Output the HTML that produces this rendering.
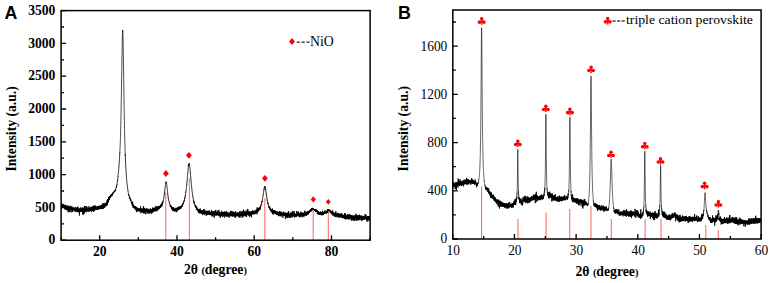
<!DOCTYPE html><html><head><meta charset="utf-8"><style>
html,body{margin:0;padding:0;background:#fff;overflow:hidden;}
svg{display:block;}
text{font-family:'Liberation Serif',serif;fill:#000;}
.ta{font-weight:bold;font-size:14.2px;}
.tb{font-size:14.7px;}
.tt{font-weight:bold;font-size:14.4px;}
.yt{font-weight:bold;font-size:15.2px;}
.pp{font-size:10.8px;}
.pl{font-family:'Liberation Sans',sans-serif;font-weight:bold;font-size:17.8px;}
.lg{font-size:14px;}
.lg2{font-size:13.2px;}
</style></head><body><svg width="772" height="283" viewBox="0 0 772 283"><rect x="0" y="0" width="772" height="283" fill="#fff"/>
<line x1="165.8" y1="192.4" x2="165.8" y2="240.2" stroke="#ff7070" stroke-width="1.1"/>
<line x1="189.4" y1="178" x2="189.4" y2="240.2" stroke="#ff7070" stroke-width="1.1"/>
<line x1="264.8" y1="198" x2="264.8" y2="240.2" stroke="#ff7070" stroke-width="1.1"/>
<line x1="313.2" y1="210.5" x2="313.2" y2="240.2" stroke="#ff7070" stroke-width="1.1"/>
<line x1="328.3" y1="212" x2="328.3" y2="240.2" stroke="#ff7070" stroke-width="1.1"/>
<line x1="481.6" y1="186.3" x2="481.6" y2="239" stroke="#ff7070" stroke-width="1.1"/>
<line x1="518" y1="219" x2="518" y2="239" stroke="#ff7070" stroke-width="1.1"/>
<line x1="546.1" y1="212.6" x2="546.1" y2="239" stroke="#ff7070" stroke-width="1.1"/>
<line x1="569.7" y1="209.1" x2="569.7" y2="239" stroke="#ff7070" stroke-width="1.1"/>
<line x1="591" y1="206" x2="591" y2="239" stroke="#ff7070" stroke-width="1.1"/>
<line x1="611.3" y1="219" x2="611.3" y2="239" stroke="#ff7070" stroke-width="1.1"/>
<line x1="645.1" y1="219" x2="645.1" y2="239" stroke="#ff7070" stroke-width="1.1"/>
<line x1="661" y1="219" x2="661" y2="239" stroke="#ff7070" stroke-width="1.1"/>
<line x1="705.8" y1="224.9" x2="705.8" y2="239" stroke="#ff7070" stroke-width="1.1"/>
<line x1="718.3" y1="230" x2="718.3" y2="239" stroke="#ff7070" stroke-width="1.1"/>
<polyline fill="none" stroke="#000" stroke-width="0.85" stroke-linejoin="round" points="61.6,206.04 61.67,207.9 61.74,207.74 61.81,205.37 61.88,205.69 61.95,205.41 62.02,206.95 62.09,206.11 62.16,207.24 62.23,203.69 62.3,208.43 62.37,206.16 62.44,207.26 62.51,206.16 62.58,205.85 62.65,207.03 62.72,207.56 62.79,206.17 62.86,206.26 62.93,207.44 63,205.32 63.07,204.46 63.14,207.12 63.21,205.67 63.28,203.98 63.35,205.53 63.42,206.03 63.49,205.05 63.56,204.66 63.63,206.8 63.7,208.01 63.77,206.47 63.84,205.79 63.91,207.37 63.98,207.85 64.05,206.48 64.12,207.66 64.19,208.37 64.26,206.67 64.33,205.86 64.4,207.48 64.47,207.37 64.54,208.57 64.61,205.3 64.68,206.18 64.75,205.96 64.82,204.75 64.89,207.34 64.96,207.91 65.03,206.19 65.1,209.14 65.17,208.38 65.24,208.14 65.31,207.85 65.38,209.95 65.45,205.5 65.52,208.2 65.59,208.21 65.66,204.97 65.73,207.9 65.8,207.1 65.87,208.54 65.94,206.88 66.01,207.48 66.08,208 66.15,206.34 66.22,208.39 66.29,207.44 66.36,208.28 66.43,206.9 66.5,209.14 66.57,208.49 66.64,207.44 66.71,208.57 66.78,209.45 66.85,210.2 66.92,205.59 66.99,208.99 67.06,208.43 67.13,207.68 67.2,206.44 67.27,209.58 67.34,206.13 67.41,208.66 67.48,209.69 67.55,205.72 67.62,207.52 67.69,206.15 67.76,208.31 67.83,210.07 67.9,210.79 67.97,205.58 68.04,207.25 68.11,209.03 68.18,212.42 68.25,208.67 68.32,207.08 68.39,208.54 68.46,208.12 68.53,207.88 68.6,207.17 68.67,208.73 68.74,208.63 68.81,208.1 68.88,207.94 68.95,206.49 69.02,207.61 69.09,209.95 69.16,208.05 69.23,206.35 69.3,210.18 69.37,209.09 69.44,211.27 69.51,208.48 69.58,207.77 69.65,206.43 69.72,210.26 69.79,211.98 69.86,207.34 69.93,207.6 70,209.32 70.07,207.38 70.14,208.16 70.21,208.07 70.28,208.83 70.35,210.08 70.42,208.62 70.49,209.87 70.56,208.05 70.63,209.09 70.7,205.72 70.77,206.68 70.84,209.78 70.91,207.89 70.98,209.52 71.05,209.48 71.12,212.38 71.19,209.88 71.26,210.18 71.33,208.65 71.4,207.86 71.47,207.83 71.54,208.18 71.61,207.31 71.68,208.13 71.75,208.77 71.82,209.6 71.89,207.99 71.96,206.3 72.03,208.86 72.1,209.28 72.17,210.47 72.24,209.79 72.31,208.13 72.38,208.04 72.45,211.8 72.52,210.1 72.59,211.59 72.66,212.01 72.73,207.98 72.8,209.65 72.87,209.76 72.94,209.91 73.01,209.9 73.08,209.45 73.15,209.43 73.22,207.14 73.29,208.99 73.36,208.2 73.43,209.41 73.5,208.61 73.57,210.12 73.64,210.4 73.71,209.72 73.78,210.17 73.85,209.45 73.92,208.72 73.99,209.12 74.06,208.68 74.13,209.9 74.2,209.4 74.27,210.19 74.34,207.58 74.41,210.63 74.48,208.38 74.55,208.43 74.62,209.18 74.69,208.68 74.76,209.86 74.83,208.69 74.9,208.02 74.97,208.34 75.04,211.3 75.11,209.58 75.18,207.93 75.25,209.55 75.32,207.42 75.39,212 75.46,207.48 75.53,210.23 75.6,210.33 75.67,207.61 75.74,210.01 75.81,210.98 75.88,210.26 75.95,209.99 76.02,210.94 76.09,209.87 76.16,210.12 76.23,209.5 76.3,210.55 76.37,208.41 76.44,210.79 76.51,209.02 76.58,208.23 76.65,210.23 76.72,212.06 76.79,211.07 76.86,209.06 76.93,210.72 77,209.16 77.07,209.62 77.14,209.92 77.21,206.64 77.28,210.08 77.35,208.42 77.42,208.88 77.49,207.83 77.56,207.78 77.63,208.57 77.7,210.99 77.77,212.15 77.84,209.85 77.91,211.38 77.98,209.54 78.05,207.29 78.12,210.12 78.19,210.53 78.26,209.34 78.33,210.34 78.4,211.5 78.47,208.76 78.54,207.93 78.61,209.65 78.68,209.67 78.75,209.48 78.82,211.31 78.89,212.33 78.96,209.41 79.03,210.93 79.1,211.27 79.17,210.96 79.24,211.42 79.31,209.46 79.38,211 79.45,215.51 79.52,211.09 79.59,209.15 79.66,210.83 79.73,211.72 79.8,210.5 79.87,209.23 79.94,212.1 80.01,208.3 80.08,210.68 80.15,209.98 80.22,208.37 80.29,211.66 80.36,210.47 80.43,208.4 80.5,210.81 80.57,209.4 80.64,207.4 80.71,209.05 80.78,210.34 80.85,210.85 80.92,210.21 80.99,210.04 81.06,210.62 81.13,209.69 81.2,211.57 81.27,210.17 81.34,210.37 81.41,210.7 81.48,208.53 81.55,209 81.62,212.04 81.69,210.41 81.76,209.19 81.83,210.42 81.9,209.3 81.97,210.33 82.04,209.04 82.11,210.32 82.18,207.8 82.25,211.74 82.32,209.24 82.39,207.79 82.46,209.63 82.53,209.42 82.6,210.13 82.67,208.37 82.74,210.46 82.81,214.83 82.88,208.18 82.95,210.37 83.02,209.48 83.09,210.16 83.16,207.44 83.23,208.33 83.3,210.51 83.37,209.84 83.44,214.32 83.51,208.93 83.58,210.11 83.65,213.82 83.72,208.83 83.79,208.64 83.86,209.82 83.93,209.8 84,211 84.07,210.03 84.14,208.82 84.21,210.13 84.28,213.41 84.35,211.56 84.42,206.07 84.49,209.64 84.56,208.64 84.63,210.66 84.7,209.58 84.77,212.43 84.84,211.07 84.91,211.01 84.98,210.05 85.05,209.74 85.12,210.25 85.19,211.54 85.26,210.51 85.33,209.3 85.4,211.5 85.47,210.03 85.54,209.66 85.61,208.69 85.68,208.99 85.75,208.89 85.82,205.97 85.89,211.11 85.96,210.49 86.03,209.43 86.1,211.12 86.17,210.3 86.24,210.2 86.31,206.35 86.38,209.37 86.45,210.39 86.52,211.84 86.59,212.14 86.66,211.58 86.73,208.08 86.8,206.68 86.87,210.4 86.94,209.66 87.01,210.91 87.08,209.43 87.15,209.89 87.22,207.57 87.29,210.18 87.36,208.97 87.43,210.03 87.5,210.17 87.57,209.38 87.64,209.96 87.71,209.5 87.78,210.53 87.85,210.18 87.92,208.76 87.99,208.69 88.06,211.82 88.13,209.33 88.2,210.79 88.27,209.97 88.34,208.68 88.41,208.42 88.48,209.58 88.55,209.75 88.62,210.22 88.69,207.68 88.76,208.58 88.83,209.24 88.9,211.5 88.97,206.18 89.04,209.92 89.11,208.6 89.18,209.89 89.25,208.65 89.32,209.78 89.39,211.38 89.46,209.75 89.53,209.85 89.6,209.75 89.67,208.24 89.74,209.96 89.81,208.95 89.88,208.13 89.95,209.16 90.02,208.89 90.09,210.2 90.16,209.12 90.23,208.46 90.3,211.1 90.37,210.47 90.44,210.83 90.51,209.94 90.58,208.97 90.65,208.55 90.72,208.72 90.79,210.35 90.86,209.23 90.93,207.09 91,209 91.07,207.16 91.14,209.26 91.21,207.42 91.28,207.33 91.35,209.16 91.42,208.89 91.49,206.77 91.56,209.97 91.63,211.84 91.7,206.98 91.77,211.36 91.84,208.01 91.91,208.26 91.98,208.66 92.05,206.97 92.12,210.61 92.19,209.52 92.26,207.86 92.33,208.48 92.4,206.82 92.47,208.36 92.54,210.05 92.61,206.52 92.68,208.21 92.75,208.97 92.82,210.16 92.89,210.54 92.96,208.14 93.03,207.75 93.1,209.32 93.17,208.23 93.24,208.28 93.31,210.11 93.38,210.91 93.45,209.01 93.52,208.39 93.59,209.39 93.66,206.13 93.73,208.59 93.8,207.2 93.87,211.75 93.94,209.53 94.01,208.75 94.08,208.04 94.15,205.22 94.22,209.47 94.29,210.67 94.36,207.55 94.43,209.4 94.5,209.44 94.57,206.43 94.64,209.69 94.71,210.23 94.78,208.74 94.85,208.34 94.92,209.45 94.99,206.38 95.06,208.51 95.13,209.76 95.2,206.73 95.27,209.66 95.34,207.8 95.41,205.6 95.48,208.18 95.55,207.04 95.62,208.72 95.69,206.75 95.76,209.65 95.83,207.3 95.9,208.72 95.97,207.47 96.04,207.81 96.11,209.78 96.18,208.49 96.25,207.69 96.32,206.56 96.39,209.7 96.46,209.13 96.53,207.73 96.6,208.47 96.67,206.8 96.74,206.8 96.81,207.04 96.88,208.57 96.95,208.48 97.02,207.11 97.09,209.03 97.16,209.08 97.23,208.28 97.3,209.39 97.37,207.65 97.44,207.87 97.51,208.62 97.58,207.95 97.65,209.01 97.72,206.35 97.79,209.81 97.86,206.93 97.93,207.72 98,206.14 98.07,208.69 98.14,209.55 98.21,209.27 98.28,208.95 98.35,205.85 98.42,206.84 98.49,207.24 98.56,206.61 98.63,209.25 98.7,208.03 98.77,207.75 98.84,208.39 98.91,206.53 98.98,206.57 99.05,206.59 99.12,208.35 99.19,208.13 99.26,208.42 99.33,209.04 99.4,205.9 99.47,206.91 99.54,207.8 99.61,205.87 99.68,206.9 99.75,208.86 99.82,208.95 99.89,208.9 99.96,207.57 100.03,207.22 100.1,208.85 100.17,206.98 100.24,208.3 100.31,209.1 100.38,206.46 100.45,206.6 100.52,207.34 100.59,208.09 100.66,207.92 100.73,207.48 100.8,207.96 100.87,205.21 100.94,206.12 101.01,207.39 101.08,205.98 101.15,205.44 101.22,205.58 101.29,205.92 101.36,206.82 101.43,205.73 101.5,207.29 101.57,209.1 101.64,206.75 101.71,208.51 101.78,207.24 101.85,205.44 101.92,206.49 101.99,205.55 102.06,207.71 102.13,205.28 102.2,208.34 102.27,207.38 102.34,204.1 102.41,207.57 102.48,208.49 102.55,205.54 102.62,207.71 102.69,204.22 102.76,206.73 102.83,204.33 102.9,206.95 102.97,204.1 103.04,203.02 103.11,206.73 103.18,209.03 103.25,205.43 103.32,207.15 103.39,206.22 103.46,205.65 103.53,206.76 103.6,207.98 103.67,204.4 103.74,206.57 103.81,206.25 103.88,204.04 103.95,207.71 104.02,208.07 104.09,204.48 104.16,207.71 104.23,205.62 104.3,205.3 104.37,207.27 104.44,205.68 104.51,205.74 104.58,207.14 104.65,206.81 104.72,206.28 104.79,203.47 104.86,203.21 104.93,206.4 105,203.89 105.07,205.13 105.14,203.62 105.21,204.63 105.28,203.27 105.35,206.69 105.42,203.49 105.49,204.5 105.56,204.37 105.63,205.96 105.7,202.8 105.77,204.38 105.84,204.11 105.91,204.91 105.98,204.77 106.05,203.61 106.12,204.35 106.19,203.56 106.26,204.45 106.33,203.7 106.4,202.97 106.47,203.6 106.54,203.95 106.61,206.03 106.68,202.77 106.75,203.57 106.82,204.78 106.89,200.65 106.96,200.92 107.03,201.43 107.1,202.52 107.17,205.26 107.24,202.84 107.31,203.62 107.38,201.91 107.45,199.31 107.52,199.36 107.59,202.88 107.66,201.84 107.73,200.1 107.8,202.58 107.87,199.6 107.94,202.32 108.01,202.52 108.08,200.04 108.15,199.54 108.22,201.43 108.29,199.26 108.36,201.12 108.43,198.85 108.5,200.72 108.57,199.82 108.64,198.69 108.71,198.49 108.78,199.42 108.85,197.17 108.92,198.56 108.99,198.27 109.06,199.11 109.13,197.12 109.2,199.71 109.27,197.66 109.34,196.74 109.41,200.11 109.48,198.93 109.55,197.14 109.62,196.38 109.69,197.03 109.76,196.3 109.83,196.5 109.9,197.93 109.97,196.86 110.04,196.56 110.11,196.63 110.18,196.22 110.25,196.83 110.32,196.77 110.39,195.75 110.46,196.03 110.53,197.63 110.6,196.1 110.67,195.6 110.74,197.08 110.81,195.61 110.88,194.8 110.95,195.91 111.02,194.83 111.09,195.03 111.16,195.49 111.23,195.14 111.3,194.7 111.37,194.77 111.44,194.35 111.51,195.64 111.58,194.51 111.65,194.53 111.72,195.89 111.79,194.42 111.86,196.21 111.93,195.25 112,194.42 112.07,193.72 112.14,194.56 112.21,194.91 112.28,194.63 112.35,194.12 112.42,194.54 112.49,194.52 112.56,193.34 112.63,194.33 112.7,193.69 112.77,193.28 112.84,193.28 112.91,194.09 112.98,193.62 113.05,192.42 113.12,193.06 113.19,192.88 113.26,192.78 113.33,192.56 113.4,192.13 113.47,192.88 113.54,192.16 113.61,192.28 113.68,192.12 113.75,192 113.82,192.44 113.89,192.24 113.96,191.8 114.03,191.31 114.1,191.74 114.17,192.18 114.24,191.81 114.31,191.78 114.38,191.5 114.45,191.45 114.52,191.53 114.59,190.73 114.66,191.85 114.73,190.91 114.8,190.89 114.87,191.46 114.94,190.96 115.01,190.78 115.08,190.44 115.15,189.98 115.22,190.46 115.29,190.68 115.36,189.8 115.43,190.44 115.5,189.41 115.57,189.39 115.64,189.65 115.71,189.29 115.78,189.35 115.85,188.65 115.92,188.34 115.99,187.84 116.06,187.84 116.13,187.66 116.2,187.29 116.27,187.64 116.34,187.04 116.41,186.3 116.48,187.57 116.55,186.11 116.62,185.65 116.69,186.2 116.76,185.84 116.83,184.68 116.9,184.2 116.97,183.98 117.04,184.33 117.11,183.42 117.18,182.82 117.25,182.65 117.32,182.62 117.39,181.24 117.46,181.1 117.53,180.24 117.6,180.96 117.67,180.29 117.74,179.42 117.81,178.46 117.88,178.13 117.95,176.55 118.02,176.74 118.09,175.52 118.16,174.84 118.23,174.36 118.3,173.77 118.37,173.36 118.44,172.65 118.51,171.72 118.58,170.5 118.65,170.26 118.72,169.15 118.79,168.75 118.86,167.15 118.93,165.61 119,165.5 119.07,165.48 119.14,163.93 119.21,162.72 119.28,162.08 119.35,160.9 119.42,159.81 119.49,158.36 119.56,157.41 119.63,156.26 119.7,154.72 119.77,153.26 119.84,152.34"/>
<polyline fill="none" stroke="#000" stroke-width="0.7" stroke-linejoin="round" points="119.77,153.26 119.84,152.34 119.91,151.21 119.98,149.61 120.05,147.99 120.12,146.35 120.19,145.35 120.26,142.71 120.33,141.05 120.4,139.34 120.47,136.52 120.54,134.32 120.61,132.2 120.68,129.89 120.75,126.73 120.82,123.93 120.89,120.86 120.96,117.28 121.03,114.8 121.1,110.87 121.17,106.14 121.24,103.52 121.31,99.03 121.38,95.2 121.45,91.34 121.52,86.66 121.59,82.89 121.66,76.95 121.73,73.46 121.8,68.94 121.87,64.65 121.94,59.91 122.01,55.24 122.08,50.93 122.15,46.86 122.22,43.55 122.29,39.55 122.36,37.02 122.43,34.34 122.5,32.53 122.57,31 122.64,31.09 122.71,30 122.78,30.83 122.85,31.97 122.92,33.82 122.99,36.07 123.06,38.88 123.13,42.36 123.2,45.19 123.27,49.76 123.34,53.64 123.41,58.69 123.48,62.89 123.55,67.76 123.62,72.92 123.69,78.29 123.76,82.83 123.83,87.49 123.9,92.55 123.97,96.29 124.04,100.32 124.11,105.2 124.18,109.39 124.25,113.9 124.32,118.05 124.39,120.5 124.46,125.34 124.53,128.37 124.6,131.32 124.67,134.2 124.74,137.83 124.81,139.81 124.88,142.21 124.95,144.93 125.02,146.79 125.09,149.7 125.16,151.65 125.23,153.86 125.3,155.82"/>
<polyline fill="none" stroke="#000" stroke-width="0.85" stroke-linejoin="round" points="125.23,153.86 125.3,155.82 125.37,157.18 125.44,159.78 125.51,160.3 125.58,162.92 125.65,163.59 125.72,165.73 125.79,166.71 125.86,168.34 125.93,169.36 126,170.04 126.07,171.57 126.14,173.09 126.21,174.34 126.28,174.62 126.35,175.36 126.42,176.73 126.49,177.86 126.56,178.56 126.63,179.32 126.7,180.69 126.77,181.49 126.84,182.14 126.91,182.25 126.98,183.28 127.05,183.83 127.12,184.03 127.19,185.44 127.26,185.74 127.33,186.1 127.4,187.3 127.47,187.6 127.54,188.13 127.61,188.74 127.68,189.04 127.75,188.8 127.82,189.55 127.89,190.46 127.96,190.26 128.03,190.94 128.1,191.46 128.17,192.2 128.24,192.51 128.31,192.73 128.38,192.69 128.45,193.41 128.52,193.61 128.59,193.68 128.66,195 128.73,194.52 128.8,194.37 128.87,195.37 128.94,195.11 129.01,195.68 129.08,195.2 129.15,195.98 129.22,195.91 129.29,196.15 129.36,196.06 129.43,198.46 129.5,197.13 129.57,197.49 129.64,198.02 129.71,197.8 129.78,198.23 129.85,197.28 129.92,198.53 129.99,198.49 130.06,199.05 130.13,199.11 130.2,198.6 130.27,198.54 130.34,199.09 130.41,200.49 130.48,200.14 130.55,200.3 130.62,199.17 130.69,198.93 130.76,200.22 130.83,200.54 130.9,200.53 130.97,201.25 131.04,201.08 131.11,200.6 131.18,200.93 131.25,201.74 131.32,201.86 131.39,201.92 131.46,203.68 131.53,202.11 131.6,202.54 131.67,201.9 131.74,202.52 131.81,203.32 131.88,203.52 131.95,203.14 132.02,203.72 132.09,203.62 132.16,202.27 132.23,201.32 132.3,205.88 132.37,204.86 132.44,204.3 132.51,203.07 132.58,203.58 132.65,205.9 132.72,202.57 132.79,204.76 132.86,205.9 132.93,205.41 133,206.05 133.07,205.4 133.14,207.73 133.21,204.83 133.28,204.64 133.35,206.21 133.42,207.36 133.49,206.13 133.56,207.25 133.63,205.9 133.7,205.4 133.77,207.9 133.84,208.17 133.91,208.24 133.98,206.48 134.05,205.89 134.12,205.97 134.19,206.96 134.26,207.83 134.33,207.84 134.4,206.03 134.47,207.7 134.54,207.6 134.61,207.75 134.68,207.7 134.75,207.59 134.82,208.45 134.89,208.04 134.96,208.2 135.03,207.32 135.1,208.47 135.17,208 135.24,206 135.31,208.71 135.38,207.99 135.45,209.26 135.52,208.18 135.59,208.29 135.66,208.66 135.73,208.47 135.8,208.05 135.87,206.67 135.94,210.55 136.01,206.96 136.08,208.31 136.15,209.41 136.22,209.16 136.29,209.39 136.36,209.65 136.43,210.22 136.5,209.21 136.57,212.07 136.64,207.85 136.71,209.23 136.78,208.62 136.85,208.45 136.92,209.39 136.99,210.71 137.06,207.58 137.13,208.38 137.2,210 137.27,209.83 137.34,211.43 137.41,210.42 137.48,209.56 137.55,208.96 137.62,209.6 137.69,209.19 137.76,207.88 137.83,209.44 137.9,209.26 137.97,209.22 138.04,209.02 138.11,211.45 138.18,210.34 138.25,210.64 138.32,208.91 138.39,208.46 138.46,209.32 138.53,209.95 138.6,209.29 138.67,209.49 138.74,210.84 138.81,210.1 138.88,208.64 138.95,209.3 139.02,209.06 139.09,210.05 139.16,208.5 139.23,209.67 139.3,210.7 139.37,209.95 139.44,208.87 139.51,208.52 139.58,210.12 139.65,210.56 139.72,211 139.79,209.87 139.86,208.51 139.93,211.75 140,210.45 140.07,210.6 140.14,210.5 140.21,208.94 140.28,209.8 140.35,210.51 140.42,211.44 140.49,210.31 140.56,206.56 140.63,209.71 140.7,210.72 140.77,211.86 140.84,211.19 140.91,213.33 140.98,212.08 141.05,212.01 141.12,211.55 141.19,208.79 141.26,211.48 141.33,211.2 141.4,209.87 141.47,211.23 141.54,211.04 141.61,210 141.68,210.43 141.75,210.28 141.82,210.9 141.89,210.13 141.96,211.31 142.03,208.36 142.1,210.35 142.17,208.68 142.24,210.15 142.31,211.37 142.38,210.79 142.45,210.65 142.52,210.88 142.59,212.72 142.66,209.49 142.73,211.93 142.8,209.03 142.87,210.31 142.94,211.1 143.01,209.88 143.08,211.18 143.15,211.83 143.22,209.5 143.29,210.88 143.36,210.53 143.43,206.26 143.5,210.78 143.57,210.05 143.64,212.68 143.71,209.98 143.78,213.15 143.85,210.42 143.92,213.46 143.99,211.76 144.06,211.66 144.13,212.11 144.2,212.23 144.27,212.86 144.34,213.27 144.41,210.72 144.48,209.62 144.55,207.88 144.62,210.7 144.69,212.12 144.76,211.65 144.83,211.33 144.9,210.76 144.97,210.41 145.04,210.85 145.11,211.69 145.18,209.03 145.25,212.11 145.32,209.41 145.39,211.02 145.46,210.44 145.53,210.77 145.6,209.93 145.67,209.8 145.74,210.94 145.81,209.89 145.88,214.28 145.95,210.72 146.02,210.42 146.09,210.55 146.16,209.91 146.23,208.19 146.3,210.92 146.37,212 146.44,209.38 146.51,211.25 146.58,209.74 146.65,211.2 146.72,211.69 146.79,211.85 146.86,211.79 146.93,210.37 147,212.34 147.07,210.69 147.14,211.69 147.21,212.13 147.28,210.87 147.35,209.65 147.42,212.02 147.49,209.86 147.56,210.14 147.63,209.88 147.7,212.3 147.77,211.05 147.84,208.45 147.91,213.07 147.98,213.83 148.05,213.49 148.12,210.54 148.19,211.34 148.26,211.88 148.33,212.36 148.4,211.29 148.47,209.88 148.54,212.18 148.61,212 148.68,209.58 148.75,210.78 148.82,211.57 148.89,211.23 148.96,211.88 149.03,212.22 149.1,211.9 149.17,211.08 149.24,209.54 149.31,211.98 149.38,212.96 149.45,213.67 149.52,211.11 149.59,211.16 149.66,213 149.73,212.99 149.8,211.62 149.87,212.08 149.94,209.28 150.01,211.91 150.08,210.15 150.15,210.99 150.22,211.02 150.29,210.58 150.36,208.53 150.43,210.13 150.5,211.56 150.57,211.07 150.64,210.65 150.71,211.66 150.78,212.81 150.85,212.17 150.92,210.1 150.99,211.12 151.06,210.67 151.13,208.88 151.2,209.21 151.27,210.94 151.34,209.97 151.41,213.71 151.48,210.76 151.55,210.74 151.62,210.51 151.69,213.31 151.76,209.81 151.83,210.77 151.9,210 151.97,210.79 152.04,210.88 152.11,212.27 152.18,209.15 152.25,210.86 152.32,212.87 152.39,210.23 152.46,210.62 152.53,209.73 152.6,207.59 152.67,210.67 152.74,212.22 152.81,210.19 152.88,208.47 152.95,211.05 153.02,210.81 153.09,211.92 153.16,211.79 153.23,210.32 153.3,211.12 153.37,208.41 153.44,211.96 153.51,210.8 153.58,211.88 153.65,211.83 153.72,210.16 153.79,210.31 153.86,209.41 153.93,207.93 154,210.27 154.07,210.59 154.14,207.72 154.21,211.22 154.28,210.46 154.35,210.86 154.42,209.36 154.49,208.13 154.56,211.18 154.63,210.95 154.7,210.06 154.77,209.66 154.84,209.81 154.91,209.95 154.98,209.47 155.05,207.64 155.12,210.97 155.19,208.2 155.26,209.56 155.33,209.55 155.4,210.19 155.47,207.91 155.54,211.23 155.61,210.53 155.68,210.61 155.75,211.15 155.82,208.65 155.89,205.82 155.96,209.88 156.03,210.98 156.1,210.75 156.17,208.69 156.24,209.15 156.31,209.54 156.38,207.02 156.45,208.3 156.52,208.28 156.59,210.81 156.66,208.14 156.73,210.67 156.8,208.8 156.87,206.78 156.94,211.24 157.01,207.49 157.08,209.27 157.15,210.47 157.22,207.84 157.29,206.99 157.36,209.54 157.43,208.38 157.5,206.86 157.57,206.99 157.64,207.73 157.71,209.22 157.78,207.77 157.85,208.8 157.92,209.89 157.99,209.42 158.06,209.58 158.13,209.32 158.2,206.14 158.27,209.25 158.34,208.23 158.41,207.7 158.48,206.62 158.55,206.04 158.62,206.53 158.69,207.69 158.76,206.41 158.83,206.76 158.9,206.95 158.97,208.99 159.04,207.22 159.11,207.34 159.18,208.86 159.25,207.08 159.32,208.01 159.39,206.24 159.46,207.64 159.53,207.38 159.6,207.39 159.67,206.69 159.74,206.07 159.81,206.77 159.88,206.55 159.95,207.99 160.02,207.8 160.09,205.68 160.16,207.41 160.23,206.28 160.3,207.12 160.37,206.16 160.44,205.17 160.51,207.44 160.58,206.84 160.65,205.23 160.72,204.57 160.79,205.72 160.86,205.08 160.93,205.73 161,206.5 161.07,207.13 161.14,205.48 161.21,206.84 161.28,206.55 161.35,205.15 161.42,204.07 161.49,205.95 161.56,205.64 161.63,206.83 161.7,206 161.77,205.38 161.84,205.88 161.91,203.83 161.98,204.55 162.05,204.09 162.12,205.23 162.19,204.31 162.26,201.97 162.33,204.42 162.4,202.95 162.47,203.68 162.54,202.83 162.61,203 162.68,202.96 162.75,202.54 162.82,201.84 162.89,202.52 162.96,201.88 163.03,201.48 163.1,201.47 163.17,200.75 163.24,201.31 163.31,200.42 163.38,200.15 163.45,199.82 163.52,199.03 163.59,198.58 163.66,198.69 163.73,198.35 163.8,198.29 163.87,197.56 163.94,196.58 164.01,196.69 164.08,196.32 164.15,195.89 164.22,195.15 164.29,194.08 164.36,194.37 164.43,193.15 164.5,193.04 164.57,191.7 164.64,191.92 164.71,190.76 164.78,190.8 164.85,190.41 164.92,189.57 164.99,188.11 165.06,187.56 165.13,186.96 165.2,186.88 165.27,186.17 165.34,185.53 165.41,185.03 165.48,184.61 165.55,184.15 165.62,184.07 165.69,183.07 165.76,182.83 165.83,181.83 165.9,181.8 165.97,181.86 166.04,181.61 166.11,182.08 166.18,182.42 166.25,182.03 166.32,182.2 166.39,182.44 166.46,182.98 166.53,182.93 166.6,183.88 166.67,184.31 166.74,184.83 166.81,185.53 166.88,185.86 166.95,186.49 167.02,187.68 167.09,187.68 167.16,188.62 167.23,189.01 167.3,189.48 167.37,190.13 167.44,190.65 167.51,191.58 167.58,191.99 167.65,192.67 167.72,193.84 167.79,193.96 167.86,194.97 167.93,195.22 168,195.97 168.07,195.97 168.14,196.74 168.21,198.1 168.28,197.93 168.35,198.45 168.42,198.61 168.49,199.25 168.56,198.94 168.63,199.44 168.7,200.26 168.77,200.75 168.84,200.67 168.91,201.07 168.98,201.33 169.05,201.69 169.12,201.63 169.19,201.83 169.26,202.57 169.33,202.25 169.4,202.74 169.47,203.08 169.54,203.13 169.61,203.91 169.68,203.8 169.75,204.17 169.82,203.89 169.89,204.2 169.96,205.07 170.03,205.17 170.1,204.85 170.17,205.51 170.24,205.56 170.31,205.7 170.38,206.79 170.45,205.61 170.52,206.3 170.59,206.44 170.66,206.11 170.73,205.55 170.8,207.02 170.87,206.82 170.94,206.77 171.01,206.86 171.08,206.96 171.15,206.33 171.22,207.37 171.29,205.77 171.36,207.3 171.43,206.17 171.5,207.2 171.57,208.75 171.64,207.43 171.71,207.32 171.78,208.25 171.85,207.64 171.92,207.59 171.99,207.66 172.06,209.43 172.13,208.74 172.2,208.64 172.27,207.18 172.34,208.89 172.41,207.19 172.48,208.88 172.55,207.45 172.62,210.37 172.69,207.01 172.76,210.9 172.83,209.46 172.9,207.07 172.97,208.58 173.04,210.25 173.11,210.01 173.18,207.37 173.25,208.52 173.32,207.93 173.39,208.12 173.46,208.54 173.53,211.02 173.6,209.39 173.67,209.09 173.74,209.02 173.81,210.06 173.88,210.12 173.95,208.57 174.02,210.98 174.09,208.48 174.16,209.32 174.23,210.07 174.3,211.36 174.37,209.34 174.44,210 174.51,211.04 174.58,210.38 174.65,210.91 174.72,210.84 174.79,210.07 174.86,210.46 174.93,210.75 175,209.81 175.07,211.45 175.14,207.84 175.21,208.91 175.28,211.28 175.35,210.25 175.42,209.16 175.49,210.18 175.56,210.88 175.63,209.2 175.7,210.52 175.77,209.6 175.84,209.59 175.91,209.61 175.98,210.77 176.05,208.5 176.12,209.23 176.19,210.24 176.26,208.32 176.33,207.93 176.4,210.05 176.47,209.45 176.54,209.27 176.61,209.52 176.68,208.38 176.75,212.21 176.82,208.3 176.89,208.81 176.96,207.8 177.03,208.76 177.1,210.64 177.17,209.12 177.24,209.65 177.31,208.56 177.38,210.77 177.45,209.13 177.52,207.72 177.59,209.65 177.66,208.1 177.73,209.43 177.8,208.95 177.87,209.04 177.94,208.89 178.01,207.87 178.08,207.28 178.15,209.61 178.22,208.53 178.29,208.9 178.36,208.17 178.43,206.68 178.5,207.36 178.57,209.81 178.64,207.76 178.71,208.1 178.78,207.08 178.85,207.91 178.92,208.02 178.99,208.12 179.06,208.22 179.13,207.69 179.2,207.7 179.27,208.17 179.34,208.42 179.41,207.98 179.48,209.58 179.55,208.2 179.62,208.12 179.69,207.37 179.76,208.76 179.83,206.98 179.9,206.44 179.97,206.93 180.04,208.21 180.11,206.71 180.18,208.65 180.25,207.53 180.32,206.27 180.39,207.25 180.46,208.78 180.53,206.65 180.6,206.25 180.67,207.59 180.74,208.13 180.81,207.84 180.88,206.77 180.95,207.08 181.02,207.11 181.09,207.64 181.16,208.25 181.23,206.58 181.3,207.48 181.37,206.27 181.44,206.82 181.51,205.73 181.58,205.76 181.65,206.43 181.72,205.52 181.79,206.54 181.86,205.56 181.93,205.85 182,205.65 182.07,205.41 182.14,205.57 182.21,205.97 182.28,206.92 182.35,204.56 182.42,205.2 182.49,204.85 182.56,204.38 182.63,204.82 182.7,204.17 182.77,204.39 182.84,204.79 182.91,203.36 182.98,204.1 183.05,204.01 183.12,203.37 183.19,203.73 183.26,203.5 183.33,203.09 183.4,203.46 183.47,202.4 183.54,202.9 183.61,202.41 183.68,201.93 183.75,202.03 183.82,201.77 183.89,201.97 183.96,200.94 184.03,201.17 184.1,200.84 184.17,201.31 184.24,200.13 184.31,200.63 184.38,199.39 184.45,199.85 184.52,199.4 184.59,199.3 184.66,198.62 184.73,197.88 184.8,197.71 184.87,198.38 184.94,197.66 185.01,196.94 185.08,197.2 185.15,196.26 185.22,195.88 185.29,195.32 185.36,195.76 185.43,195.61 185.5,194.16 185.57,194.16 185.64,193.94 185.71,193.87 185.78,191.81 185.85,192.2 185.92,191.86 185.99,190.59 186.06,190.71 186.13,190.08 186.2,189.69 186.27,188.64 186.34,188.39 186.41,187.41 186.48,187.19 186.55,186.38 186.62,185.53 186.69,184.48 186.76,184.85 186.83,184.31 186.9,183.14 186.97,181.86 187.04,181.22 187.11,181.16 187.18,180.06 187.25,178.72 187.32,178.24 187.39,177.48 187.46,176.56 187.53,175.5 187.6,175.46 187.67,174.43 187.74,173.36 187.81,172.1 187.88,171.67 187.95,171.12 188.02,170.69 188.09,169.54 188.16,169.36 188.23,168.37 188.3,167.43 188.37,165.12 188.44,166.14 188.51,165.53 188.58,165.54 188.65,165.3 188.72,165.32 188.79,164.54 188.86,163.9 188.93,164.96 189,164.13 189.07,163.88 189.14,163.9 189.21,163.1 189.28,164.43 189.35,164.55 189.42,165.23 189.49,165.39 189.56,165.69 189.63,166.26 189.7,166.2 189.77,166.68 189.84,167.39 189.91,167.59 189.98,168.63 190.05,169.25 190.12,170.31 190.19,170.81 190.26,170.91 190.33,172.37 190.4,173.65 190.47,173.32 190.54,174.51 190.61,175.6 190.68,175.95 190.75,177.05 190.82,178.08 190.89,178.42 190.96,179.79 191.03,180.64 191.1,180.84 191.17,182.08 191.24,183.22 191.31,183.54 191.38,184.5 191.45,185.31 191.52,185.72 191.59,186.85 191.66,187.32 191.73,187.51 191.8,188.7 191.87,189.46 191.94,190.06 192.01,190.16 192.08,191.14 192.15,192.03 192.22,192.19 192.29,193.07 192.36,193.64 192.43,193.69 192.5,194.43 192.57,194.59 192.64,195.9 192.71,195.59 192.78,195.87 192.85,196.49 192.92,196.9 192.99,197.46 193.06,197.89 193.13,197.7 193.2,198.26 193.27,198.97 193.34,199.37 193.41,199.57 193.48,200.8 193.55,200.59 193.62,200.48 193.69,201.32 193.76,202.04 193.83,201.53 193.9,201.07 193.97,201.98 194.04,202.23 194.11,203.22 194.18,202.08 194.25,203.5 194.32,203.14 194.39,203.75 194.46,203.55 194.53,203.93 194.6,204.47 194.67,204.31 194.74,204.85 194.81,204.65 194.88,204.72 194.95,204.97 195.02,205.05 195.09,205.36 195.16,206.1 195.23,205.27 195.3,205.2 195.37,206.05 195.44,206.99 195.51,206.86 195.58,207.16 195.65,207.29 195.72,206.41 195.79,206.99 195.86,205.59 195.93,206.85 196,207.67 196.07,206.51 196.14,206.31 196.21,206.87 196.28,207.93 196.35,208.66 196.42,209.72 196.49,209.08 196.56,207.19 196.63,206.72 196.7,208.54 196.77,209.29 196.84,207.45 196.91,208.34 196.98,208.48 197.05,208.93 197.12,208.86 197.19,209.48 197.26,210 197.33,209.31 197.4,209.93 197.47,211.03 197.54,208.65 197.61,208.7 197.68,210.06 197.75,211.27 197.82,209.92 197.89,210.79 197.96,209.65 198.03,210.79 198.1,209.5 198.17,210.72 198.24,210.53 198.31,210.6 198.38,211.55 198.45,211.34 198.52,209.87 198.59,211.3 198.66,208.95 198.73,211.52 198.8,213.24 198.87,211.2 198.94,211.24 199.01,210.87 199.08,211.66 199.15,210.47 199.22,211.61 199.29,210.74 199.36,210.63 199.43,211.22 199.5,211.08 199.57,209.44 199.64,213.32 199.71,211.41 199.78,209.59 199.85,212.45 199.92,211.36 199.99,211.63 200.06,212.19 200.13,210.57 200.2,208.47 200.27,211.46 200.34,211.85 200.41,212.68 200.48,210.86 200.55,211.4 200.62,212.14 200.69,211.41 200.76,211.51 200.83,212.07 200.9,210.75 200.97,213.56 201.04,210.01 201.11,211.94 201.18,211.56 201.25,211.17 201.32,212.55 201.39,213.1 201.46,213.61 201.53,212.67 201.6,211.55 201.67,213.03 201.74,210.47 201.81,212.16 201.88,212.7 201.95,212.77 202.02,210.85 202.09,210.48 202.16,214.06 202.23,211.61 202.3,210.34 202.37,210.81 202.44,212.25 202.51,215.06 202.58,212.25 202.65,213.64 202.72,212.54 202.79,212.83 202.86,213.44 202.93,211.88 203,212.66 203.07,211.88 203.14,211.6 203.21,213.11 203.28,211.4 203.35,212.46 203.42,211.45 203.49,212.28 203.56,211.78 203.63,213.69 203.7,212.69 203.77,212.51 203.84,214.38 203.91,209.01 203.98,211.12 204.05,209.19 204.12,212.44 204.19,212.98 204.26,213.23 204.33,212.79 204.4,211.44 204.47,214.58 204.54,212.86 204.61,212.19 204.68,211.16 204.75,213.02 204.82,211.93 204.89,211.99 204.96,212.79 205.03,212.81 205.1,211.56 205.17,214.08 205.24,211.36 205.31,211.22 205.38,212.96 205.45,212.75 205.52,212.81 205.59,212.11 205.66,212.67 205.73,211.94 205.8,210.62 205.87,213.55 205.94,211.41 206.01,212.38 206.08,213.57 206.15,212.7 206.22,216.06 206.29,210.96 206.36,211.77 206.43,212.81 206.5,214.39 206.57,212.41 206.64,210.95 206.71,214.15 206.78,211.59 206.85,212.5 206.92,213.85 206.99,211.92 207.06,212.2 207.13,213.38 207.2,212.52 207.27,213.14 207.34,211.61 207.41,212.64 207.48,211.43 207.55,210.86 207.62,215.01 207.69,213.39 207.76,213.97 207.83,211.61 207.9,212.8 207.97,212.58 208.04,211.06 208.11,213.54 208.18,211.95 208.25,212.61 208.32,210.95 208.39,214.13 208.46,213.84 208.53,213.38 208.6,211.74 208.67,212.22 208.74,214.45 208.81,212.56 208.88,213.25 208.95,213.1 209.02,211.51 209.09,214.87 209.16,210.42 209.23,213.23 209.3,212.84 209.37,210.89 209.44,213.38 209.51,213.63 209.58,213.04 209.65,211.92 209.72,213.56 209.79,214.41 209.86,213.28 209.93,215.2 210,214.1 210.07,214 210.14,214.8 210.21,212.18 210.28,212.36 210.35,213.7 210.42,213.71 210.49,214.98 210.56,214.52 210.63,213.28 210.7,213.35 210.77,212.72 210.84,212.61 210.91,212.51 210.98,214.26 211.05,212.5 211.12,212.65 211.19,213.32 211.26,212.46 211.33,212.56 211.4,210.32 211.47,213.63 211.54,212.76 211.61,213.41 211.68,213.65 211.75,210.78 211.82,216.31 211.89,213.42 211.96,213.46 212.03,210.93 212.1,214.07 212.17,213.82 212.24,212.83 212.31,213.64 212.38,215 212.45,212.92 212.52,212.19 212.59,215.11 212.66,213.74 212.73,213.18 212.8,216.41 212.87,213.64 212.94,213.21 213.01,213.79 213.08,212.92 213.15,213.73 213.22,213.65 213.29,212.61 213.36,213.13 213.43,213.87 213.5,213.97 213.57,214.24 213.64,214.51 213.71,213.81 213.78,214.16 213.85,212.99 213.92,213.16 213.99,214.85 214.06,210.91 214.13,213.98 214.2,217.64 214.27,211.08 214.34,215.47 214.41,211.2 214.48,213.97 214.55,215.63 214.62,215.44 214.69,212.3 214.76,211.78 214.83,211.6 214.9,214.43 214.97,212.97 215.04,213.49 215.11,213.83 215.18,214.03 215.25,214.19 215.32,213.65 215.39,211.38 215.46,215.41 215.53,209.88 215.6,215.13 215.67,212.71 215.74,213.25 215.81,212.82 215.88,213.03 215.95,213.49 216.02,213.15 216.09,212.08 216.16,214.65 216.23,212.77 216.3,215.31 216.37,213.34 216.44,212.61 216.51,214.12 216.58,214.72 216.65,212.33 216.72,213.18 216.79,215.45 216.86,212.25 216.93,212.45 217,213.8 217.07,211.97 217.14,210.32 217.21,211.38 217.28,214.09 217.35,214.46 217.42,214.38 217.49,214.12 217.56,211.98 217.63,214.51 217.7,215.14 217.77,212.7 217.84,214.87 217.91,213.14 217.98,213.89 218.05,214.13 218.12,211.67 218.19,215.59 218.26,212.52 218.33,213.52 218.4,213 218.47,214.27 218.54,214.24 218.61,213.7 218.68,215.55 218.75,214.06 218.82,213.16 218.89,209.86 218.96,213.32 219.03,213.31 219.1,212.54 219.17,212.56 219.24,214.5 219.31,215.1 219.38,216.24 219.45,215.24 219.52,212.79 219.59,214.07 219.66,211.92 219.73,214.71 219.8,214.22 219.87,212.93 219.94,213.61 220.01,213.42 220.08,212.91 220.15,215.52 220.22,217.91 220.29,214.87 220.36,215.19 220.43,214 220.5,213.32 220.57,216.72 220.64,213.31 220.71,214.33 220.78,213.65 220.85,214.6 220.92,213.75 220.99,214.61 221.06,212.13 221.13,213.69 221.2,215.66 221.27,212.46 221.34,212.95 221.41,215.68 221.48,214.39 221.55,215.28 221.62,210.87 221.69,214.06 221.76,212.17 221.83,212.02 221.9,214.43 221.97,215.47 222.04,211.89 222.11,212.41 222.18,213.12 222.25,213.62 222.32,212.13 222.39,216.94 222.46,214.7 222.53,213.44 222.6,213.23 222.67,217.05 222.74,216.94 222.81,213.28 222.88,214.41 222.95,215.64 223.02,212.36 223.09,213.17 223.16,215.78 223.23,213.03 223.3,213.39 223.37,212.16 223.44,211.97 223.51,214.9 223.58,212.88 223.65,212.23 223.72,213.15 223.79,216.38 223.86,214.24 223.93,213.25 224,214.21 224.07,214.61 224.14,214.18 224.21,211.59 224.28,214.43 224.35,213.74 224.42,215.17 224.49,212.21 224.56,215.45 224.63,213.38 224.7,211.74 224.77,217.66 224.84,213.36 224.91,214.56 224.98,213.85 225.05,215.54 225.12,215.56 225.19,215.58 225.26,215.05 225.33,211.9 225.4,211.81 225.47,214.36 225.54,212.81 225.61,214.73 225.68,214.33 225.75,212.2 225.82,212.71 225.89,212.58 225.96,212.92 226.03,213.85 226.1,215.05 226.17,215.95 226.24,212.82 226.31,213.38 226.38,216.25 226.45,215.36 226.52,214.47 226.59,210.98 226.66,212.8 226.73,214.38 226.8,213.37 226.87,216.88 226.94,214.3 227.01,214.57 227.08,212.7 227.15,212.78 227.22,213.29 227.29,213.35 227.36,213.89 227.43,214.71 227.5,214.53 227.57,215.57 227.64,212.38 227.71,214.51 227.78,214.55 227.85,216.39 227.92,213.93 227.99,214.68 228.06,213.13 228.13,214.82 228.2,214.78 228.27,213.39 228.34,213.65 228.41,214.21 228.48,215.04 228.55,212.69 228.62,215.46 228.69,213.81 228.76,216.85 228.83,216.25 228.9,213.72 228.97,213.42 229.04,217.62 229.11,215.13 229.18,215.05 229.25,213.71 229.32,214.11 229.39,215.38 229.46,215.12 229.53,213.16 229.6,215.98 229.67,215.13 229.74,213 229.81,215.65 229.88,214.06 229.95,215.36 230.02,213.54 230.09,214.79 230.16,212.09 230.23,214.81 230.3,212.23 230.37,214.52 230.44,210.85 230.51,214.22 230.58,215.29 230.65,214.96 230.72,215.93 230.79,212.85 230.86,216.44 230.93,216.49 231,212.68 231.07,213.23 231.14,213.53 231.21,214.28 231.28,214.56 231.35,210.96 231.42,215.12 231.49,213.97 231.56,212.93 231.63,215.6 231.7,213.37 231.77,215.86 231.84,215.04 231.91,213.88 231.98,215.91 232.05,215.41 232.12,213.63 232.19,212.13 232.26,213.57 232.33,215.16 232.4,213.99 232.47,216.71 232.54,214.67 232.61,214.58 232.68,214.87 232.75,213.12 232.82,214.15 232.89,213.42 232.96,211.13 233.03,211.91 233.1,215.32 233.17,213.72 233.24,214.16 233.31,212.32 233.38,213.52 233.45,215.39 233.52,214.45 233.59,213.62 233.66,216.4 233.73,214.24 233.8,213.85 233.87,215.88 233.94,211.97 234.01,215.07 234.08,212.81 234.15,213.26 234.22,213.4 234.29,214.5 234.36,214.47 234.43,214.74 234.5,214.61 234.57,216.23 234.64,216.62 234.71,215.29 234.78,215.35 234.85,213.82 234.92,212.84 234.99,215.13 235.06,214.38 235.13,216.65 235.2,211.85 235.27,217.96 235.34,212.6 235.41,214.38 235.48,215.67 235.55,212.45 235.62,213.58 235.69,211.59 235.76,212.39 235.83,211.7 235.9,214.47 235.97,214.73 236.04,213.9 236.11,216.04 236.18,216.21 236.25,214.32 236.32,214.03 236.39,213.96 236.46,213.72 236.53,216.1 236.6,214.65 236.67,213.88 236.74,214.02 236.81,215.07 236.88,213.79 236.95,214.76 237.02,214.28 237.09,216.17 237.16,215.9 237.23,212.41 237.3,214.11 237.37,215.29 237.44,213.72 237.51,215.43 237.58,214.78 237.65,215.13 237.72,214.24 237.79,214.74 237.86,215.04 237.93,212.34 238,213.09 238.07,212.95 238.14,216.6 238.21,214.73 238.28,214.83 238.35,214.56 238.42,213.62 238.49,213.32 238.56,215.47 238.63,213.82 238.7,216.46 238.77,214.59 238.84,214.44 238.91,214.02 238.98,214.13 239.05,214.37 239.12,216.37 239.19,217.47 239.26,212.76 239.33,214.66 239.4,215.27 239.47,213.1 239.54,213.46 239.61,213.7 239.68,211.07 239.75,215.19 239.82,214.25 239.89,214.19 239.96,214.42 240.03,214.65 240.1,217.42 240.17,214.55 240.24,215.43 240.31,213.6 240.38,214.78 240.45,213.88 240.52,214.1 240.59,213.08 240.66,213.19 240.73,215.53 240.8,215.29 240.87,214.9 240.94,212.49 241.01,214.7 241.08,210.86 241.15,215.53 241.22,214.21 241.29,214.62 241.36,215.82 241.43,213.68 241.5,215.53 241.57,213.65 241.64,214.96 241.71,213.68 241.78,214.63 241.85,216.16 241.92,213.34 241.99,213.39 242.06,213.76 242.13,214.6 242.2,217.87 242.27,213.41 242.34,211.44 242.41,213.29 242.48,212.04 242.55,213.4 242.62,214.17 242.69,212.86 242.76,213.22 242.83,211.62 242.9,214.36 242.97,213.11 243.04,215.55 243.11,215.5 243.18,212.92 243.25,213.58 243.32,214.14 243.39,215.07 243.46,209.63 243.53,213.95 243.6,216.52 243.67,213.91 243.74,214.31 243.81,214.01 243.88,212.41 243.95,215.26 244.02,214.34 244.09,214.19 244.16,215.96 244.23,216.11 244.3,211.42 244.37,214.58 244.44,213.16 244.51,214.4 244.58,212.96 244.65,212.75 244.72,215.16 244.79,213.88 244.86,213.5 244.93,213.49 245,213.97 245.07,213.83 245.14,210.7 245.21,212.68 245.28,213.52 245.35,214.81 245.42,215.62 245.49,212.56 245.56,216.36 245.63,213.9 245.7,214.42 245.77,213.05 245.84,212.94 245.91,215.64 245.98,213.43 246.05,213.57 246.12,215.23 246.19,215.96 246.26,211.69 246.33,213.41 246.4,213.63 246.47,216.02 246.54,216.87 246.61,213.53 246.68,214.08 246.75,214.71 246.82,215.07 246.89,213.12 246.96,214.66 247.03,212.59 247.1,209.97 247.17,211.66 247.24,213.75 247.31,214.48 247.38,210.46 247.45,211.04 247.52,213.36 247.59,208.95 247.66,214.11 247.73,214.72 247.8,209.43 247.87,214.34 247.94,213.07 248.01,215.17 248.08,213.66 248.15,212.97 248.22,213.42 248.29,214.48 248.36,213.49 248.43,213.28 248.5,211.33 248.57,213.83 248.64,213.23 248.71,215.58 248.78,213.14 248.85,213.04 248.92,212.32 248.99,214.07 249.06,212.85 249.13,212.18 249.2,215.18 249.27,215.4 249.34,212.48 249.41,211.73 249.48,214.52 249.55,211.96 249.62,216.7 249.69,212.85 249.76,214.26 249.83,211.33 249.9,212.96 249.97,214.41 250.04,213.56 250.11,212.29 250.18,216.15 250.25,213.92 250.32,212.67 250.39,212.18 250.46,212.45 250.53,214.68 250.6,211.94 250.67,212.97 250.74,211.86 250.81,214.53 250.88,212.7 250.95,214 251.02,213.62 251.09,212.14 251.16,213.77 251.23,214.07 251.3,211.39 251.37,213.75 251.44,217.39 251.51,212.27 251.58,213.64 251.65,211.11 251.72,213.39 251.79,212.04 251.86,213.76 251.93,212.71 252,211.27 252.07,214.15 252.14,212.47 252.21,211.44 252.28,212.8 252.35,211.49 252.42,213.2 252.49,212.61 252.56,212.21 252.63,213.5 252.7,211.04 252.77,213.86 252.84,210.11 252.91,214.63 252.98,212.83 253.05,212.26 253.12,211.65 253.19,213.24 253.26,212.35 253.33,212.31 253.4,213.8 253.47,211.96 253.54,212.2 253.61,213.01 253.68,213.79 253.75,212.26 253.82,212.63 253.89,212.47 253.96,213.31 254.03,214.21 254.1,211.21 254.17,212.18 254.24,212.27 254.31,213.94 254.38,214.12 254.45,212.25 254.52,212.51 254.59,213.61 254.66,210.71 254.73,211.26 254.8,211.63 254.87,212.14 254.94,212.41 255.01,211.49 255.08,214.18 255.15,211.22 255.22,211.8 255.29,213.31 255.36,212.91 255.43,211.95 255.5,212.38 255.57,212.88 255.64,211.87 255.71,212.62 255.78,210.76 255.85,211.89 255.92,209.86 255.99,210.71 256.06,210.39 256.13,213.12 256.2,211.11 256.27,211.96 256.34,210.52 256.41,211.32 256.48,211.19 256.55,210.51 256.62,212.41 256.69,209.53 256.76,212.06 256.83,214.28 256.9,210.37 256.97,211.27 257.04,209.48 257.11,211.12 257.18,207.45 257.25,211.74 257.32,210.48 257.39,208.98 257.46,209.53 257.53,209.17 257.6,210.51 257.67,212.65 257.74,210.28 257.81,208.29 257.88,209.72 257.95,210.64 258.02,207.98 258.09,210.99 258.16,210.74 258.23,207.82 258.3,211.38 258.37,208.52 258.44,209.85 258.51,211.13 258.58,208.35 258.65,208.08 258.72,208.71 258.79,208.67 258.86,209.48 258.93,209.04 259,208.99 259.07,208.92 259.14,209.1 259.21,208.42 259.28,209.35 259.35,209 259.42,208.02 259.49,210.27 259.56,207.63 259.63,209.14 259.7,207.85 259.77,208.6 259.84,208.6 259.91,208.72 259.98,208.99 260.05,207.22 260.12,209.68 260.19,207.82 260.26,206.87 260.33,206.38 260.4,208.57 260.47,207.94 260.54,206.77 260.61,207.04 260.68,207.15 260.75,206.39 260.82,205.85 260.89,205.86 260.96,206.04 261.03,205.46 261.1,204.74 261.17,205.3 261.24,204.17 261.31,204.28 261.38,204.74 261.45,204.13 261.52,203.98 261.59,203.55 261.66,203.61 261.73,202.93 261.8,201.95 261.87,202.43 261.94,200.93 262.01,200.97 262.08,201.93 262.15,201.39 262.22,200.49 262.29,200.26 262.36,199.94 262.43,199.88 262.5,198.84 262.57,198.39 262.64,198.06 262.71,197.9 262.78,197.51 262.85,196.82 262.92,196.78 262.99,195.68 263.06,195.54 263.13,194.85 263.2,194.25 263.27,194.57 263.34,193.53 263.41,192.79 263.48,192.68 263.55,191.82 263.62,191.92 263.69,191.54 263.76,191.14 263.83,189.95 263.9,189.84 263.97,190.14 264.04,189.01 264.11,189.17 264.18,188.92 264.25,187.56 264.32,188.21 264.39,187.79 264.46,187.62 264.53,187.74 264.6,187.16 264.67,186.92 264.74,187.06 264.81,186.7 264.88,187.03 264.95,186.21 265.02,187.66 265.09,187 265.16,187.79 265.23,187.72 265.3,187.91 265.37,188.21 265.44,188.52 265.51,188.26 265.58,189.03 265.65,190.06 265.72,189.69 265.79,190.12 265.86,191.71 265.93,191.85 266,192.45 266.07,192.37 266.14,192.96 266.21,193.62 266.28,194.04 266.35,194.3 266.42,193.8 266.49,195.04 266.56,195.24 266.63,196.81 266.7,196.57 266.77,197.11 266.84,197.72 266.91,198.07 266.98,198.68 267.05,198.69 267.12,198.78 267.19,200.35 267.26,199.86 267.33,200.32 267.4,200.57 267.47,201.02 267.54,201.57 267.61,202.45 267.68,201.85 267.75,202.65 267.82,202.61 267.89,203.58 267.96,203 268.03,203.75 268.1,204.24 268.17,203.76 268.24,204.54 268.31,204.8 268.38,204.7 268.45,205.13 268.52,205.84 268.59,205.76 268.66,205.67 268.73,205.96 268.8,206.48 268.87,207.11 268.94,207.06 269.01,207.22 269.08,207.9 269.15,206.21 269.22,206.41 269.29,206 269.36,208.16 269.43,206.21 269.5,207.87 269.57,208.57 269.64,207.16 269.71,207.81 269.78,208.23 269.85,209.11 269.92,207.48 269.99,209.03 270.06,209.45 270.13,209.11 270.2,209.23 270.27,210.25 270.34,209.49 270.41,209.38 270.48,209.2 270.55,210.16 270.62,209.41 270.69,210.35 270.76,209.93 270.83,210.96 270.9,209.26 270.97,210.15 271.04,210.48 271.11,210.62 271.18,211.39 271.25,210.75 271.32,211.32 271.39,212.43 271.46,211.4 271.53,209.56 271.6,209.25 271.67,211.42 271.74,210.42 271.81,211.16 271.88,210.56 271.95,212.33 272.02,212.27 272.09,209.89 272.16,211.41 272.23,210.85 272.3,208.43 272.37,211.96 272.44,211.16 272.51,211.84 272.58,214.09 272.65,212.89 272.72,212.69 272.79,211.08 272.86,210.26 272.93,212.99 273,211.31 273.07,211.73 273.14,211.3 273.21,211.87 273.28,214.5 273.35,211.47 273.42,211.54 273.49,212.12 273.56,212.25 273.63,210.58 273.7,209.95 273.77,211.34 273.84,211.8 273.91,211.16 273.98,210.94 274.05,211.03 274.12,211.69 274.19,212.03 274.26,210.29 274.33,211.58 274.4,212.67 274.47,212.13 274.54,210.69 274.61,211.9 274.68,212.32 274.75,213.28 274.82,210.45 274.89,213.23 274.96,211.88 275.03,212.7 275.1,214.08 275.17,211.45 275.24,211.54 275.31,212.4 275.38,213.43 275.45,211.92 275.52,210.88 275.59,211.77 275.66,213.1 275.73,214.06 275.8,212.05 275.87,212.29 275.94,212.48 276.01,212.55 276.08,211.57 276.15,212.21 276.22,213.03 276.29,212.91 276.36,212.83 276.43,211.57 276.5,212.15 276.57,211.96 276.64,214.16 276.71,214.68 276.78,213.32 276.85,214.89 276.92,212.56 276.99,212.58 277.06,211.34 277.13,213.26 277.2,212.42 277.27,213.11 277.34,213.62 277.41,212.73 277.48,211.64 277.55,213 277.62,212.98 277.69,213.12 277.76,213.94 277.83,212.84 277.9,212.79 277.97,215.32 278.04,214.5 278.11,213.05 278.18,212.01 278.25,212.63 278.32,213.69 278.39,214.28 278.46,216.27 278.53,212.94 278.6,213.46 278.67,212.83 278.74,213.39 278.81,212.82 278.88,211.96 278.95,214.62 279.02,213.5 279.09,214.98 279.16,212.73 279.23,213.71 279.3,214.23 279.37,211.02 279.44,211.74 279.51,214.38 279.58,213.57 279.65,211.12 279.72,212.52 279.79,212.14 279.86,212.87 279.93,215.46 280,212.78 280.07,216.1 280.14,213.21 280.21,212.61 280.28,215.56 280.35,214.79 280.42,215.36 280.49,216.1 280.56,214.99 280.63,215.22 280.7,211.47 280.77,212.64 280.84,214.29 280.91,214.01 280.98,214.69 281.05,213.18 281.12,215.25 281.19,216.44 281.26,214.63 281.33,214.98 281.4,214.58 281.47,215.15 281.54,214.26 281.61,213.37 281.68,214.3 281.75,214.21 281.82,212.13 281.89,214.43 281.96,214.19 282.03,214.46 282.1,213.51 282.17,214.87 282.24,215.08 282.31,213.39 282.38,214.75 282.45,215.37 282.52,215.35 282.59,213.22 282.66,213.11 282.73,214.5 282.8,213.13 282.87,217.75 282.94,213.48 283.01,213.52 283.08,215.42 283.15,213.99 283.22,211.58 283.29,214.45 283.36,213.38 283.43,214 283.5,212.6 283.57,212.36 283.64,214.52 283.71,214.64 283.78,213.31 283.85,213.84 283.92,213.68 283.99,214.98 284.06,214.62 284.13,213.2 284.2,215.68 284.27,213.94 284.34,215.37 284.41,213.68 284.48,215.27 284.55,214.74 284.62,214.97 284.69,215.56 284.76,215.48 284.83,215.13 284.9,215.13 284.97,213.27 285.04,214.83 285.11,212.07 285.18,212.01 285.25,214.52 285.32,214.64 285.39,218.75 285.46,215.8 285.53,216.38 285.6,214.53 285.67,215.52 285.74,216.46 285.81,215.63 285.88,215.41 285.95,215.08 286.02,213.75 286.09,213.79 286.16,213.09 286.23,215.49 286.3,214.6 286.37,214.08 286.44,215.42 286.51,214.21 286.58,216.33 286.65,217.45 286.72,215.55 286.79,214.06 286.86,213.01 286.93,217.59 287,215.55 287.07,213.42 287.14,216.36 287.21,212.77 287.28,214.38 287.35,214.64 287.42,214.48 287.49,213.46 287.56,218.08 287.63,214.42 287.7,215.44 287.77,214.98 287.84,212.84 287.91,214.21 287.98,215.21 288.05,216.15 288.12,214.47 288.19,215.4 288.26,214.48 288.33,215.69 288.4,211.67 288.47,215.7 288.54,214.09 288.61,214.15 288.68,211.17 288.75,213.5 288.82,215.71 288.89,217.94 288.96,213.97 289.03,214.02 289.1,215.53 289.17,215.26 289.24,214.11 289.31,214.66 289.38,214.37 289.45,215.69 289.52,215.92 289.59,217.19 289.66,216.08 289.73,215.74 289.8,215.07 289.87,216.1 289.94,213.56 290.01,217.7 290.08,215.22 290.15,216.71 290.22,213.8 290.29,216.2 290.36,215.37 290.43,214.6 290.5,213.96 290.57,213.68 290.64,217.21 290.71,218.05 290.78,214.98 290.85,215.09 290.92,213.87 290.99,212.4 291.06,212.46 291.13,214.02 291.2,214.61 291.27,213.27 291.34,215.87 291.41,215.49 291.48,215.02 291.55,212.49 291.62,214.52 291.69,214.76 291.76,213.14 291.83,211.92 291.9,217.33 291.97,215.62 292.04,214.29 292.11,216.91 292.18,216.27 292.25,215.39 292.32,215.09 292.39,215.83 292.46,216.73 292.53,214.89 292.6,214.49 292.67,215.56 292.74,211.07 292.81,214.91 292.88,213.72 292.95,214.77 293.02,214.55 293.09,215.24 293.16,214.93 293.23,214.88 293.3,214.62 293.37,215.39 293.44,214.12 293.51,216.09 293.58,212.57 293.65,215.06 293.72,215.39 293.79,213.12 293.86,214.23 293.93,216.54 294,214.62 294.07,213.63 294.14,210.87 294.21,215.25 294.28,214.94 294.35,215.61 294.42,217.5 294.49,214.8 294.56,215.16 294.63,213.9 294.7,214.72 294.77,214.77 294.84,215.8 294.91,215.54 294.98,213.8 295.05,214.18 295.12,216.62 295.19,213.55 295.26,215.79 295.33,216.95 295.4,215.67 295.47,215.15 295.54,216.61 295.61,215.28 295.68,214.8 295.75,214.55 295.82,216.32 295.89,215.73 295.96,216.84 296.03,214.38 296.1,214.41 296.17,214.25 296.24,215.18 296.31,213.91 296.38,216.03 296.45,215.26 296.52,213.53 296.59,210.94 296.66,212.43 296.73,216.7 296.8,214.74 296.87,215.01 296.94,214.26 297.01,215.33 297.08,212.31 297.15,212.2 297.22,212.68 297.29,214.9 297.36,215.73 297.43,215.43 297.5,214.47 297.57,213.14 297.64,215.84 297.71,214.44 297.78,214.77 297.85,214.7 297.92,214.19 297.99,212.91 298.06,214.03 298.13,211.43 298.2,215.11 298.27,214.56 298.34,216.1 298.41,212.43 298.48,216.3 298.55,214.69 298.62,214.57 298.69,213.73 298.76,213.71 298.83,212.84 298.9,215.93 298.97,214.49 299.04,215.69 299.11,215.83 299.18,214.11 299.25,214.45 299.32,214.31 299.39,216.07 299.46,214.92 299.53,214.96 299.6,215.67 299.67,214.64 299.74,217.36 299.81,213.54 299.88,216.34 299.95,216.53 300.02,213.26 300.09,215.82 300.16,215.07 300.23,215.82 300.3,213.17 300.37,215.02 300.44,213.45 300.51,214.27 300.58,216.5 300.65,214.52 300.72,211.82 300.79,212.9 300.86,213.23 300.93,215.96 301,213.78 301.07,212.69 301.14,216.07 301.21,214.97 301.28,215.08 301.35,213.63 301.42,216.43 301.49,214.47 301.56,212.13 301.63,213.18 301.7,213.55 301.77,214.4 301.84,215.56 301.91,213.68 301.98,213.83 302.05,217.33 302.12,214.67 302.19,213.9 302.26,214.6 302.33,212.99 302.4,215.2 302.47,215.73 302.54,213.8 302.61,215.76 302.68,214.15 302.75,214.85 302.82,213.57 302.89,213.49 302.96,212.62 303.03,215 303.1,214.1 303.17,214.13 303.24,213.05 303.31,212.99 303.38,213.64 303.45,214.97 303.52,214.76 303.59,213.55 303.66,214.72 303.73,216.49 303.8,214.47 303.87,216.78 303.94,214.84 304.01,215.91 304.08,213.65 304.15,215.69 304.22,212.84 304.29,214.54 304.36,213.83 304.43,211.83 304.5,212.58 304.57,215.54 304.64,214.76 304.71,215.69 304.78,214.37 304.85,210.7 304.92,214.4 304.99,213.42 305.06,213.48 305.13,213.53 305.2,213.14 305.27,212.9 305.34,215.44 305.41,214.49 305.48,213.2 305.55,213.45 305.62,215.03 305.69,214.33 305.76,214.09 305.83,212.44 305.9,213.33 305.97,212.51 306.04,211.6 306.11,214.76 306.18,213.35 306.25,213.23 306.32,212.6 306.39,214.49 306.46,215.94 306.53,214.23 306.6,214.58 306.67,212.16 306.74,213.69 306.81,213.71 306.88,215.06 306.95,213.42 307.02,212.36 307.09,213.27 307.16,212.84 307.23,214.81 307.3,213.94 307.37,213.56 307.44,213.35 307.51,214.01 307.58,212.06 307.65,212.1 307.72,211.07 307.79,214.19 307.86,213.45 307.93,213.54 308,212.89 308.07,214.47 308.14,211.77 308.21,213.91 308.28,211.83 308.35,212.17 308.42,211.38 308.49,212.61 308.56,212.19 308.63,212.83 308.7,211.81 308.77,211 308.84,212.79 308.91,213.4 308.98,212.83 309.05,212.05 309.12,212.41 309.19,210.45 309.26,211.62 309.33,212.9 309.4,212.21 309.47,211 309.54,212.42 309.61,211.51 309.68,212.18 309.75,210.31 309.82,210.99 309.89,211.63 309.96,211.55 310.03,211.68 310.1,211.16 310.17,210.94 310.24,211.41 310.31,211.64 310.38,209.73 310.45,210.59 310.52,210.61 310.59,210.81 310.66,211.37 310.73,209.59 310.8,210.87 310.87,209.19 310.94,209.83 311.01,209.93 311.08,210.03 311.15,209.74 311.22,209.74 311.29,209.8 311.36,209.78 311.43,208.71 311.5,208.04 311.57,209.5 311.64,210.04 311.71,210.27 311.78,211.33 311.85,209.61 311.92,209.03 311.99,209.55 312.06,209.79 312.13,209.43 312.2,208.7 312.27,209.21 312.34,209.2 312.41,208.41 312.48,208.49 312.55,209.78 312.62,207.89 312.69,209.16 312.76,208.91 312.83,209.77 312.9,209.34 312.97,208.55 313.04,209.66 313.11,208.7 313.18,210.04 313.25,209.86 313.32,208.95 313.39,209.41 313.46,209.11 313.53,208.55 313.6,209.61 313.67,209.29 313.74,209.55 313.81,209.69 313.88,209.91 313.95,209.75 314.02,209.17 314.09,209.31 314.16,209.53 314.23,209.28 314.3,209.26 314.37,210.5 314.44,209.77 314.51,210.64 314.58,209.14 314.65,209.63 314.72,209.45 314.79,209.53 314.86,209.65 314.93,209.81 315,209.68 315.07,211.16 315.14,210.95 315.21,209.67 315.28,209.86 315.35,210.78 315.42,210.71 315.49,210 315.56,211.12 315.63,209.56 315.7,210.29 315.77,211.91 315.84,208.9 315.91,210.68 315.98,211.62 316.05,210.86 316.12,210.45 316.19,210.43 316.26,209.58 316.33,210.21 316.4,211.35 316.47,210.92 316.54,211.41 316.61,211.37 316.68,211.78 316.75,210.27 316.82,211.42 316.89,211.45 316.96,211.53 317.03,211.11 317.1,210.06 317.17,212.5 317.24,212.72 317.31,214.12 317.38,212.76 317.45,213.62 317.52,212.76 317.59,211.95 317.66,212.78 317.73,211.34 317.8,212.65 317.87,212.38 317.94,211.56 318.01,213.69 318.08,213.64 318.15,213.08 318.22,213.46 318.29,214.28 318.36,212.65 318.43,211.54 318.5,211.95 318.57,213.56 318.64,213.15 318.71,211.54 318.78,214.27 318.85,213.45 318.92,214.63 318.99,214.2 319.06,212.7 319.13,213.25 319.2,212.46 319.27,212.38 319.34,212.94 319.41,213.76 319.48,214.65 319.55,212.42 319.62,214.04 319.69,213.4 319.76,213.16 319.83,214.54 319.9,213.07 319.97,214.84 320.04,213.13 320.11,212.54 320.18,214.28 320.25,212.03 320.32,212.32 320.39,213.35 320.46,213.56 320.53,213.29 320.6,211.55 320.67,212.22 320.74,214.13 320.81,214.17 320.88,212.58 320.95,213.9 321.02,213.85 321.09,214.69 321.16,212.88 321.23,215.16 321.3,213.33 321.37,215.15 321.44,214.61 321.51,212.6 321.58,213.33 321.65,213.95 321.72,214.7 321.79,212.21 321.86,213.12 321.93,214.28 322,214.13 322.07,212.53 322.14,212.69 322.21,214.05 322.28,212.54 322.35,213.83 322.42,214.52 322.49,213.58 322.56,210.79 322.63,214.74 322.7,214.7 322.77,214.96 322.84,215.28 322.91,211.75 322.98,214.89 323.05,213.78 323.12,214.37 323.19,213.23 323.26,213.12 323.33,212.9 323.4,214.92 323.47,213.57 323.54,213.07 323.61,211.97 323.68,213.68 323.75,213.2 323.82,213.5 323.89,214.09 323.96,213.8 324.03,213.06 324.1,213.23 324.17,213.08 324.24,213.64 324.31,213.58 324.38,213.01 324.45,212.02 324.52,213.6 324.59,213.6 324.66,211.71 324.73,213.03 324.8,212.26 324.87,210.56 324.94,212.49 325.01,213.35 325.08,211.77 325.15,211.75 325.22,213.25 325.29,211.3 325.36,211.4 325.43,211.9 325.5,212.67 325.57,212.62 325.64,211.56 325.71,211.7 325.78,211.98 325.85,211.52 325.92,211.07 325.99,210.83 326.06,212.27 326.13,211.45 326.2,213.9 326.27,212.02 326.34,210.86 326.41,211.41 326.48,211.62 326.55,211.61 326.62,211.59 326.69,211.54 326.76,211.04 326.83,211.59 326.9,212.7 326.97,210.67 327.04,210.67 327.11,211.43 327.18,211.78 327.25,211.42 327.32,211.67 327.39,210.71 327.46,210.4 327.53,211.15 327.6,211.13 327.67,213.02 327.74,211.7 327.81,209.29 327.88,211.11 327.95,210.07 328.02,209.05 328.09,210.8 328.16,210.4 328.23,210.27 328.3,209.61 328.37,209.8 328.44,210.37 328.51,209.48 328.58,210.47 328.65,210.64 328.72,210.47 328.79,210.81 328.86,210.57 328.93,209.81 329,209.93 329.07,210.81 329.14,211.46 329.21,210.9 329.28,210.45 329.35,210.99 329.42,209.55 329.49,210.2 329.56,210.72 329.63,211.01 329.7,210.86 329.77,210.95 329.84,210.28 329.91,210.81 329.98,211.53 330.05,209.89 330.12,210.46 330.19,211.21 330.26,212.8 330.33,212.19 330.4,213.01 330.47,212.89 330.54,211.41 330.61,211.8 330.68,210.89 330.75,213.03 330.82,212.7 330.89,212.64 330.96,212.77 331.03,212.65 331.1,212.48 331.17,212.6 331.24,213.54 331.31,211.71 331.38,211.52 331.45,212.58 331.52,213.75 331.59,212.92 331.66,212.54 331.73,213.61 331.8,212.95 331.87,211 331.94,211.94 332.01,210.88 332.08,212.82 332.15,212.64 332.22,213.6 332.29,215.37 332.36,212.62 332.43,213.29 332.5,212.93 332.57,210.4 332.64,212.61 332.71,212.69 332.78,213.79 332.85,212.64 332.92,212.18 332.99,214.26 333.06,213.58 333.13,212.71 333.2,212.9 333.27,213.43 333.34,214.71 333.41,215.42 333.48,212.41 333.55,215.21 333.62,214 333.69,214.38 333.76,215.1 333.83,212.93 333.9,215.04 333.97,212.6 334.04,213.58 334.11,213.17 334.18,216.12 334.25,216.1 334.32,215.11 334.39,214.86 334.46,213.66 334.53,216.35 334.6,215.97 334.67,215.42 334.74,214.25 334.81,213.99 334.88,214.33 334.95,216.03 335.02,213.35 335.09,214.8 335.16,216.47 335.23,215.6 335.3,216.65 335.37,215.08 335.44,215.12 335.51,216.3 335.58,215.44 335.65,215.08 335.72,214.07 335.79,211.14 335.86,216.54 335.93,214.24 336,213.85 336.07,215.84 336.14,213.71 336.21,213.16 336.28,214.13 336.35,214.77 336.42,215.2 336.49,215.51 336.56,216.1 336.63,214.77 336.7,215.38 336.77,214.8 336.84,214.16 336.91,215.47 336.98,215.43 337.05,217.31 337.12,215.76 337.19,214.16 337.26,215.78 337.33,214.74 337.4,217.04 337.47,212.94 337.54,214.26 337.61,214.27 337.68,215.26 337.75,214.96 337.82,213.13 337.89,212.8 337.96,215.39 338.03,217.02 338.1,217.02 338.17,214.69 338.24,215.79 338.31,214.12 338.38,213.4 338.45,216.8 338.52,216.12 338.59,214.85 338.66,214.81 338.73,216.47 338.8,215.73 338.87,214.91 338.94,215.71 339.01,215.36 339.08,214.87 339.15,214.49 339.22,217.86 339.29,214.83 339.36,213.95 339.43,217.79 339.5,217.09 339.57,216.18 339.64,215.44 339.71,215.8 339.78,213.7 339.85,215.56 339.92,215.95 339.99,215.36 340.06,216.19 340.13,214.66 340.2,215.9 340.27,213.66 340.34,215.67 340.41,214.92 340.48,214.02 340.55,215.23 340.62,215.79 340.69,215.01 340.76,216.99 340.83,214.91 340.9,217.04 340.97,216.79 341.04,215.08 341.11,217.73 341.18,214.13 341.25,216.61 341.32,216.02 341.39,216.94 341.46,213.94 341.53,212.95 341.6,214.94 341.67,216.06 341.74,216.17 341.81,216.1 341.88,215.76 341.95,214.32 342.02,214.37 342.09,215.62 342.16,216.89 342.23,217.55 342.3,215.59 342.37,217.67 342.44,214.54 342.51,217.34 342.58,214.94 342.65,216.7 342.72,215.16 342.79,215.17 342.86,215.75 342.93,218.34 343,215.64 343.07,217.35 343.14,216.77 343.21,216.99 343.28,217.03 343.35,217.46 343.42,215.1 343.49,216.75 343.56,217.17 343.63,215.98 343.7,217.23 343.77,215.45 343.84,217.75 343.91,215.91 343.98,216.48 344.05,217.9 344.12,218.3 344.19,216.16 344.26,216.08 344.33,218.23 344.4,213.17 344.47,218.71 344.54,218.66 344.61,215.58 344.68,218.55 344.75,217.47 344.82,217.61 344.89,213.97 344.96,216.37 345.03,216.76 345.1,216.48 345.17,216.51 345.24,216.64 345.31,213.25 345.38,216.76 345.45,216.11 345.52,216.91 345.59,216.37 345.66,217.02 345.73,217.39 345.8,219.36 345.87,215.93 345.94,219.24 346.01,216.69 346.08,215.83 346.15,215.09 346.22,218.14 346.29,215 346.36,218.2 346.43,217.45 346.5,216.24 346.57,216.1 346.64,217.62 346.71,217.18 346.78,217.95 346.85,216.96 346.92,216.28 346.99,217.67 347.06,215.36 347.13,218.06 347.2,217.01 347.27,215.45 347.34,215.58 347.41,216.49 347.48,214.5 347.55,218.76 347.62,218.19 347.69,215.45 347.76,216.74 347.83,219.14 347.9,217.42 347.97,215.53 348.04,214 348.11,214.68 348.18,218.45 348.25,217.28 348.32,215.11 348.39,217.79 348.46,216.36 348.53,215.95 348.6,216.14 348.67,216.21 348.74,219.06 348.81,215.56 348.88,216.28 348.95,218.6 349.02,218.83 349.09,215.49 349.16,219.58 349.23,218.29 349.3,214.81 349.37,219.23 349.44,214.81 349.51,217.72 349.58,215.25 349.65,214.4 349.72,217.94 349.79,217.37 349.86,216.69 349.93,217.06 350,216.66 350.07,216.45 350.14,215.36 350.21,217.6 350.28,216.84 350.35,216.49 350.42,216.05 350.49,216.44 350.56,214.78 350.63,216.41 350.7,215.51 350.77,218.58 350.84,215.56 350.91,216.24 350.98,216.88 351.05,217.94 351.12,217.5 351.19,216.9 351.26,219.81 351.33,216.87 351.4,217.34 351.47,220.61 351.54,215.72 351.61,218.23 351.68,217.54 351.75,215.16 351.82,216.11 351.89,218.09 351.96,215.01 352.03,216.73 352.1,218.26 352.17,216.68 352.24,217.38 352.31,216.12 352.38,216.19 352.45,216.21 352.52,216.58 352.59,217.92 352.66,217.28 352.73,219.76 352.8,217.84 352.87,217.48 352.94,220.17 353.01,216.98 353.08,216.04 353.15,217.36 353.22,215.68 353.29,217.87 353.36,220.89 353.43,218.06 353.5,216.09 353.57,217.02 353.64,217.88 353.71,218.84 353.78,216.7 353.85,216.69 353.92,218.74 353.99,217.57 354.06,217.75 354.13,217.95 354.2,215.2 354.27,217.11 354.34,218.77 354.41,217.12 354.48,217.07 354.55,217.76 354.62,217.89 354.69,220.83 354.76,216.28 354.83,217.58 354.9,220.14 354.97,217.45 355.04,217.93 355.11,215.44 355.18,218.75 355.25,218.62 355.32,218.56 355.39,217.2 355.46,217.96 355.53,217.37 355.6,218.63 355.67,217.46 355.74,218.56 355.81,215.67 355.88,217.05 355.95,213.62 356.02,217.31 356.09,218.57 356.16,217.18 356.23,220.74 356.3,216.19 356.37,217.09 356.44,216.29 356.51,216.88 356.58,216.93 356.65,215.56 356.72,216.25 356.79,220.36 356.86,217.24 356.93,218.85 357,215.88 357.07,217.46 357.14,218.36 357.21,217.39 357.28,216.94 357.35,217.39 357.42,217.69 357.49,218.79 357.56,219.31 357.63,215.87 357.7,214.86 357.77,217.42 357.84,217.69 357.91,218.67 357.98,219.16 358.05,216.8 358.12,220.53 358.19,218.07 358.26,215.31 358.33,219.04 358.4,218.12 358.47,218.14 358.54,215.57 358.61,217.34 358.68,217.98 358.75,217.56 358.82,218.72 358.89,219.5 358.96,219.87 359.03,219.51 359.1,217.6 359.17,220.16 359.24,218.17 359.31,218.99 359.38,217.49 359.45,215.92 359.52,214.73 359.59,218.1 359.66,216.92 359.73,217.84 359.8,219.08 359.87,215.77 359.94,215.46 360.01,218.23 360.08,218.38 360.15,217.51 360.22,217.17 360.29,215.71 360.36,217.78 360.43,216.89 360.5,218.5 360.57,219.21 360.64,217.16 360.71,218.5 360.78,218.18 360.85,218.89 360.92,220.04 360.99,218.85 361.06,218.92 361.13,219.04 361.2,217.37 361.27,217.95 361.34,218.44 361.41,219.67 361.48,219.75 361.55,221.09 361.62,216.49 361.69,217.93 361.76,215.62 361.83,217.26 361.9,215.74 361.97,219.6 362.04,219.04 362.11,216.54 362.18,218.47 362.25,219.03 362.32,220.41 362.39,219.16 362.46,218.2 362.53,217.91 362.6,218.89 362.67,218.46 362.74,217.39 362.81,216.37 362.88,219.5 362.95,217.06 363.02,217.69 363.09,219.16 363.16,217.99 363.23,219.62 363.3,216.53 363.37,219.12 363.44,216.25 363.51,216.02 363.58,216.65 363.65,218.25 363.72,217.16 363.79,216.2 363.86,219.75 363.93,216.78 364,217.95 364.07,218.46 364.14,217.46 364.21,218.61 364.28,218.97 364.35,217.98 364.42,219.55 364.49,217.31 364.56,216.68 364.63,218.41 364.7,216.81 364.77,218.66 364.84,218 364.91,217.5 364.98,218.95 365.05,218.89 365.12,214.08 365.19,217.72 365.26,218.35 365.33,218.84 365.4,216.67 365.47,216.59 365.54,218.34 365.61,219.11 365.68,215.35 365.75,216.11 365.82,217.37 365.89,214.62 365.96,217.37 366.03,219.32 366.1,216.73 366.17,218.39 366.24,216.98 366.31,218.78 366.38,219.1 366.45,220 366.52,218.31 366.59,219.66 366.66,218.77 366.73,217.56 366.8,220.25 366.87,217.4 366.94,218.46 367.01,221.6 367.08,219.43 367.15,217.1 367.22,218.64 367.29,217.47 367.36,218.04 367.43,216.16 367.5,218.54 367.57,216.1 367.64,218.75 367.71,218.76 367.78,219.42 367.85,221.32 367.92,215.97 367.99,216.61 368.06,216.88 368.13,216.69 368.2,219.47 368.27,217.8 368.34,217.46 368.41,216.71 368.48,217.4 368.55,217.66 368.62,218.13 368.69,216.29 368.76,218.17 368.83,219.06 368.9,218.76 368.97,216.55 369.04,219.41 369.11,220.5 369.18,219.1 369.25,216.59 369.32,216.25 369.39,218.34 369.46,216.87 369.53,216.44 369.6,219.52"/>
<polyline fill="none" stroke="#000" stroke-width="0.85" stroke-linejoin="round" points="453.3,186.14 453.37,185.63 453.44,185.22 453.51,181.87 453.58,185.93 453.65,182.14 453.72,186.62 453.79,186.17 453.86,186.49 453.93,186.48 454,185.69 454.07,184.44 454.14,184.77 454.21,187.45 454.28,184.34 454.35,184.86 454.42,184.11 454.49,184.41 454.56,184.7 454.63,185.53 454.7,184.7 454.77,184.6 454.84,184.2 454.91,185.23 454.98,183.09 455.05,185.14 455.12,186.99 455.19,183.91 455.26,184.96 455.33,189.17 455.4,183.53 455.47,182.58 455.54,184.33 455.61,187.62 455.68,187.94 455.75,183.12 455.82,185.74 455.89,184.89 455.96,184 456.03,181.98 456.1,186.35 456.17,183.54 456.24,185.24 456.31,184.9 456.38,190.28 456.45,186.48 456.52,183.02 456.59,184.32 456.66,186.22 456.73,182.71 456.8,184.07 456.87,184.97 456.94,182.23 457.01,182.78 457.08,182.06 457.15,184.98 457.22,183.71 457.29,185.88 457.36,184.66 457.43,185.31 457.5,184.31 457.57,185.52 457.64,184.08 457.71,182.91 457.78,186.07 457.85,185.74 457.92,187.61 457.99,184.03 458.06,183.35 458.13,182.04 458.2,178.46 458.27,182.18 458.34,184.79 458.41,182.74 458.48,180.19 458.55,184.88 458.62,183.08 458.69,183.39 458.76,183.25 458.83,183.46 458.9,184.52 458.97,181.24 459.04,183.42 459.11,182.98 459.18,185.37 459.25,182.15 459.32,186.05 459.39,184.5 459.46,185.97 459.53,182.52 459.6,184.71 459.67,184.04 459.74,181.28 459.81,183.07 459.88,182.77 459.95,182 460.02,182.27 460.09,179.15 460.16,182.67 460.23,183.83 460.3,181.03 460.37,181 460.44,184.81 460.51,182.72 460.58,183.28 460.65,182.88 460.72,182.41 460.79,184.07 460.86,182.39 460.93,183.19 461,181.01 461.07,180.71 461.14,181.95 461.21,185.88 461.28,183.33 461.35,185.87 461.42,183.69 461.49,183.67 461.56,182.14 461.63,182.94 461.7,185.58 461.77,184.67 461.84,182.01 461.91,182.22 461.98,184.85 462.05,182.12 462.12,184.2 462.19,181.51 462.26,183.74 462.33,185.04 462.4,184.01 462.47,183.13 462.54,182.97 462.61,182.63 462.68,182.7 462.75,184.44 462.82,184.39 462.89,183.28 462.96,180.84 463.03,181.9 463.1,183.08 463.17,182.71 463.24,180.65 463.31,183.57 463.38,186.37 463.45,180.79 463.52,182.65 463.59,184.9 463.66,181.93 463.73,181.93 463.8,182.75 463.87,183.32 463.94,181.88 464.01,183.89 464.08,179.69 464.15,183.4 464.22,183.5 464.29,182.19 464.36,182.97 464.43,182.46 464.5,184.31 464.57,181.7 464.64,182.3 464.71,180.34 464.78,180.71 464.85,181.97 464.92,180.06 464.99,181.08 465.06,180.37 465.13,181.57 465.2,182.44 465.27,183.62 465.34,179.44 465.41,181.94 465.48,183.47 465.55,184.2 465.62,184.23 465.69,180.12 465.76,181.44 465.83,182.98 465.9,183.51 465.97,182.55 466.04,182.51 466.11,182.47 466.18,181 466.25,182.33 466.32,183.25 466.39,181.58 466.46,183.74 466.53,177.96 466.6,181.57 466.67,184.46 466.74,183.27 466.81,184.07 466.88,182.41 466.95,180.28 467.02,181.23 467.09,184.13 467.16,179.31 467.23,180.56 467.3,179.47 467.37,181.14 467.44,181.29 467.51,182.71 467.58,180.69 467.65,184.3 467.72,182.77 467.79,181.16 467.86,180.41 467.93,179.68 468,181.98 468.07,184.61 468.14,181.55 468.21,180.31 468.28,181.68 468.35,181.02 468.42,180.46 468.49,179.04 468.56,181.64 468.63,183.81 468.7,183.43 468.77,183.08 468.84,181.97 468.91,182.33 468.98,183.08 469.05,181.57 469.12,182.03 469.19,181.06 469.26,183.21 469.33,180.3 469.4,182.55 469.47,182.79 469.54,182.75 469.61,182.57 469.68,180.91 469.75,180.76 469.82,180.96 469.89,181.01 469.96,179.95 470.03,180.89 470.1,180.62 470.17,180.17 470.24,182 470.31,180.43 470.38,181.83 470.45,183.52 470.52,183.81 470.59,181.5 470.66,182.89 470.73,181.82 470.8,184.78 470.87,183.75 470.94,183.02 471.01,181.26 471.08,181.14 471.15,182.24 471.22,181.44 471.29,181.15 471.36,182.45 471.43,179.79 471.5,178.77 471.57,180.13 471.64,178.39 471.71,181.42 471.78,180.36 471.85,181.29 471.92,178.81 471.99,183.57 472.06,182.12 472.13,180.43 472.2,182.04 472.27,183.28 472.34,182.77 472.41,181.53 472.48,182.49 472.55,182.87 472.62,180.08 472.69,179.79 472.76,180.94 472.83,183.06 472.9,183.73 472.97,181.96 473.04,183.79 473.11,183.14 473.18,181.74 473.25,180.88 473.32,181.03 473.39,182 473.46,183.75 473.53,183.03 473.6,180.26 473.67,180.38 473.74,183.04 473.81,182.27 473.88,180.82 473.95,182.92 474.02,183.82 474.09,183.11 474.16,182.25 474.23,183.82 474.3,181.67 474.37,181.43 474.44,181.04 474.51,184.56 474.58,184.86 474.65,182.19 474.72,182.99 474.79,182.83 474.86,183.43 474.93,183.76 475,183.15 475.07,182.24 475.14,181.77 475.21,181.24 475.28,179.43 475.35,182.49 475.42,181.73 475.49,182.84 475.56,182.8 475.63,181.87 475.7,182.61 475.77,183.78 475.84,183.64 475.91,182.61 475.98,182.9 476.05,184.49 476.12,184.26 476.19,184.46 476.26,184.09 476.33,185.15 476.4,184.58 476.47,187.17 476.54,184.19 476.61,184.04 476.68,186.42 476.75,184.77 476.82,184.11 476.89,185.27 476.96,182.69 477.03,185.2 477.1,184.76 477.17,184.92 477.24,183.93 477.31,185.65 477.38,184.73 477.45,184.37 477.52,184.57 477.59,183.56 477.66,183.98 477.73,182.9 477.8,183.07 477.87,183.86 477.94,183.58 478.01,183.77 478.08,182.79 478.15,182.9 478.22,182.41 478.29,182.62 478.36,182.57 478.43,182.39 478.5,181.91 478.57,181.08 478.64,181.12"/>
<polyline fill="none" stroke="#000" stroke-width="0.6" stroke-linejoin="round" points="478.57,181.08 478.64,181.12 478.71,180.28 478.78,179.55 478.85,179.91 478.92,179.41 478.99,179.15 479.06,178.64 479.13,177.27 479.2,176.41 479.27,176.4 479.34,175.67 479.41,174.96 479.48,173.42 479.55,172.83 479.62,172.08 479.69,171.37 479.76,168.89 479.83,168.53 479.9,166.23 479.97,164.05 480.04,163.16 480.11,160.11 480.18,157.67 480.25,155.71 480.32,152.84 480.39,149.14 480.46,145.09 480.53,140.59 480.6,136.45 480.67,130.21 480.74,124.56 480.81,118.8 480.88,111.15 480.95,103.1 481.02,93.74 481.09,83.39 481.16,73.7 481.23,62.35 481.3,53.06 481.37,43.96 481.44,35.32 481.51,30.65 481.58,27.74 481.65,28.31 481.72,31.36 481.79,38.45 481.86,47.27 481.93,56.02 482,66.82 482.07,77.11 482.14,86.79 482.21,97.21 482.28,105.51 482.35,113.4 482.42,120.86 482.49,126.58 482.56,133.76 482.63,137.43 482.7,141.69 482.77,146.39 482.84,149.9 482.91,152.62 482.98,155.54 483.05,158.8 483.12,160.96 483.19,163.14 483.26,165.25 483.33,166.47 483.4,168.79 483.47,169.81 483.54,171.43 483.61,172.07 483.68,173.86 483.75,174.76 483.82,176.58 483.89,176.52 483.96,178.01 484.03,178.49 484.1,179.59 484.17,179.8 484.24,180.55 484.31,180.16 484.38,181.1 484.45,182.52 484.52,182.81 484.59,183.43 484.66,183.5 484.73,184.33 484.8,184.31 484.87,184.82 484.94,185.66"/>
<polyline fill="none" stroke="#000" stroke-width="0.85" stroke-linejoin="round" points="484.87,184.82 484.94,185.66 485.01,185.96 485.08,185.72 485.15,186.19 485.22,186.55 485.29,186.62 485.36,186.86 485.43,186.61 485.5,187.61 485.57,186.84 485.64,187.01 485.71,189.39 485.78,189.09 485.85,189.26 485.92,188.33 485.99,187.76 486.06,188.81 486.13,189.53 486.2,188.48 486.27,188.12 486.34,187.11 486.41,187.13 486.48,190.15 486.55,187.39 486.62,188.16 486.69,188.56 486.76,189.14 486.83,187.75 486.9,189.62 486.97,189.73 487.04,189.34 487.11,188.74 487.18,189.09 487.25,187.59 487.32,190.32 487.39,189.22 487.46,188.42 487.53,189.93 487.6,190.61 487.67,190.57 487.74,190.96 487.81,191.67 487.88,189.9 487.95,190.8 488.02,190.98 488.09,189.14 488.16,192.14 488.23,190.62 488.3,191.39 488.37,191.55 488.44,190.35 488.51,192.38 488.58,192.67 488.65,191.82 488.72,188.26 488.79,193.46 488.86,191.75 488.93,191.25 489,191.42 489.07,190.91 489.14,191.88 489.21,193.19 489.28,191.16 489.35,192.89 489.42,191.98 489.49,192.49 489.56,192.45 489.63,193.39 489.7,194.37 489.77,193.17 489.84,194.41 489.91,195.25 489.98,191.59 490.05,194.53 490.12,192.81 490.19,193.45 490.26,195.04 490.33,193.56 490.4,193.13 490.47,195.68 490.54,195.5 490.61,194.76 490.68,198.01 490.75,193.11 490.82,192.35 490.89,194.3 490.96,193.17 491.03,195.25 491.1,194.06 491.17,194.14 491.24,195.04 491.31,193.99 491.38,192.64 491.45,194.32 491.52,196.32 491.59,195.78 491.66,196.81 491.73,197.91 491.8,196.92 491.87,195.66 491.94,194.9 492.01,196.62 492.08,198.26 492.15,198.1 492.22,197.53 492.29,195.26 492.36,197.23 492.43,198.45 492.5,198.28 492.57,194.96 492.64,195.82 492.71,197.05 492.78,197.11 492.85,196.19 492.92,197.8 492.99,196.78 493.06,198.8 493.13,196.68 493.2,197.98 493.27,194.62 493.34,197.88 493.41,196.76 493.48,198.75 493.55,197.61 493.62,199.64 493.69,197.28 493.76,196.11 493.83,198.52 493.9,199.08 493.97,197.32 494.04,196.64 494.11,200.64 494.18,200.09 494.25,199.72 494.32,198.91 494.39,198.87 494.46,201.24 494.53,200.16 494.6,197.85 494.67,197.69 494.74,200.16 494.81,200.39 494.88,198.58 494.95,198.46 495.02,200.96 495.09,199.24 495.16,200.94 495.23,198.28 495.3,198.52 495.37,197.57 495.44,200.02 495.51,199.56 495.58,197.83 495.65,200.49 495.72,199.59 495.79,200.1 495.86,202.46 495.93,201.92 496,201.3 496.07,200.2 496.14,199.04 496.21,199.86 496.28,200.32 496.35,202.7 496.42,199.66 496.49,199.49 496.56,201.08 496.63,201.71 496.7,202.76 496.77,203.17 496.84,201.12 496.91,204.14 496.98,202.41 497.05,200.39 497.12,200.17 497.19,201.02 497.26,201.32 497.33,202.86 497.4,200.62 497.47,201.03 497.54,200.68 497.61,202.34 497.68,199.93 497.75,202.85 497.82,199.84 497.89,201.86 497.96,202.84 498.03,202.7 498.1,206.32 498.17,199.76 498.24,199.43 498.31,200.59 498.38,203.71 498.45,201.03 498.52,204.1 498.59,202.35 498.66,203.78 498.73,200.56 498.8,204.3 498.87,204.52 498.94,201.55 499.01,204.84 499.08,206.78 499.15,203.03 499.22,201.72 499.29,202.25 499.36,202.74 499.43,204.65 499.5,208.52 499.57,202.67 499.64,202.99 499.71,201.34 499.78,202.63 499.85,204.1 499.92,200.55 499.99,204.49 500.06,206.12 500.13,205.31 500.2,202.77 500.27,201.36 500.34,203.26 500.41,202.19 500.48,201.17 500.55,202.66 500.62,201.77 500.69,206.62 500.76,204.94 500.83,205.16 500.9,202.31 500.97,205.94 501.04,203.43 501.11,205.24 501.18,202.56 501.25,204.97 501.32,201.66 501.39,203.87 501.46,203.8 501.53,202.19 501.6,204.25 501.67,203.41 501.74,203.69 501.81,205.36 501.88,206.2 501.95,204.06 502.02,206.24 502.09,205.86 502.16,205.51 502.23,206.76 502.3,202.29 502.37,206.44 502.44,205.08 502.51,203.99 502.58,204.34 502.65,206.09 502.72,206.38 502.79,205.7 502.86,202.99 502.93,202.58 503,204.8 503.07,205.68 503.14,203.78 503.21,206.09 503.28,205.72 503.35,205.56 503.42,203.76 503.49,206.71 503.56,206.33 503.63,206.92 503.7,205.52 503.77,203.14 503.84,205.56 503.91,206.29 503.98,204.85 504.05,203.4 504.12,205.91 504.19,206.05 504.26,203.3 504.33,204.09 504.4,203.05 504.47,205.66 504.54,205.46 504.61,207.75 504.68,203.89 504.75,207.19 504.82,204.94 504.89,205.67 504.96,203.49 505.03,205.35 505.1,204.56 505.17,205.18 505.24,205.63 505.31,206.09 505.38,206.62 505.45,205.39 505.52,204.13 505.59,206.95 505.66,205.59 505.73,203.73 505.8,207.51 505.87,205.95 505.94,206.6 506.01,203.09 506.08,204.67 506.15,208.54 506.22,206.35 506.29,206.34 506.36,204.62 506.43,205.47 506.5,206.23 506.57,205.59 506.64,205.56 506.71,203.17 506.78,204.59 506.85,205.11 506.92,206.61 506.99,206.55 507.06,205.79 507.13,204.77 507.2,204.78 507.27,206.21 507.34,203.89 507.41,205.22 507.48,205.44 507.55,205.54 507.62,208.34 507.69,205.72 507.76,207.2 507.83,208.29 507.9,206.72 507.97,205.99 508.04,204.17 508.11,208.37 508.18,204.4 508.25,203.05 508.32,207.59 508.39,203.91 508.46,204.3 508.53,205.02 508.6,202.55 508.67,202.89 508.74,206.35 508.81,206.78 508.88,207.19 508.95,206.04 509.02,205.51 509.09,205.32 509.16,207.87 509.23,207.33 509.3,205.46 509.37,206.56 509.44,204.39 509.51,206.84 509.58,204.55 509.65,205.9 509.72,205.77 509.79,202.2 509.86,207.09 509.93,206.07 510,204.97 510.07,205.05 510.14,205.94 510.21,205.84 510.28,206.72 510.35,206.26 510.42,206.91 510.49,206.36 510.56,203.96 510.63,203.93 510.7,206.62 510.77,206.48 510.84,205.87 510.91,203.95 510.98,204.79 511.05,204.6 511.12,206.7 511.19,204.53 511.26,203.69 511.33,204.46 511.4,206.01 511.47,207.8 511.54,204.76 511.61,207.05 511.68,204.73 511.75,204.71 511.82,204.06 511.89,206.37 511.96,204.49 512.03,206.5 512.1,204.5 512.17,207.54 512.24,205.31 512.31,205.02 512.38,203.18 512.45,206.7 512.52,205.23 512.59,204.86 512.66,204.74 512.73,203.95 512.8,203.87 512.87,205.06 512.94,203.38 513.01,204.28 513.08,207.67 513.15,204.21 513.22,203.93 513.29,205.57 513.36,202.84 513.43,206.17 513.5,204.13 513.57,202.41 513.64,203.8 513.71,202.96 513.78,204.86 513.85,203.17 513.92,204.78 513.99,200.98 514.06,203.02 514.13,204.37 514.2,204.22 514.27,203.53 514.34,204.43 514.41,204.41 514.48,203.25 514.55,203.49 514.62,204.38 514.69,203.3 514.76,199.47 514.83,200.78 514.9,201.99 514.97,203.76 515.04,202.85 515.11,203.58 515.18,203.99 515.25,203.29 515.32,201.22 515.39,204.63 515.46,200.52 515.53,200.53 515.6,201.53 515.67,199.06 515.74,204.02 515.81,204.75 515.88,201.4 515.95,200.98 516.02,198.74 516.09,201.74 516.16,200.08 516.23,199.29 516.3,198.87 516.37,200.01 516.44,199.6 516.51,199.33 516.58,198.45 516.65,197 516.72,199.21 516.79,197.96 516.86,196.16 516.93,194.87 517,194.05 517.07,193.29"/>
<polyline fill="none" stroke="#000" stroke-width="0.6" stroke-linejoin="round" points="517,194.05 517.07,193.29 517.14,191.46 517.21,189.17 517.28,186.73 517.35,182.58 517.42,178.9 517.49,172.97 517.56,165.88 517.63,159.73 517.7,153.46 517.77,149.41 517.84,150.62 517.91,153.46 517.98,160.56 518.05,167.5 518.12,173.38 518.19,178.94 518.26,183.66 518.33,186.12 518.4,188.8 518.47,191.19 518.54,193.19"/>
<polyline fill="none" stroke="#000" stroke-width="0.85" stroke-linejoin="round" points="518.47,191.19 518.54,193.19 518.61,194.83 518.68,195.77 518.75,195.59 518.82,197.95 518.89,198.32 518.96,199.18 519.03,197.07 519.1,197.33 519.17,198.66 519.24,199.16 519.31,199.88 519.38,198.84 519.45,199.03 519.52,200.98 519.59,198 519.66,199.27 519.73,200.89 519.8,202.73 519.87,201.42 519.94,203.23 520.01,201.63 520.08,202.24 520.15,202.46 520.22,201.49 520.29,199.72 520.36,201.16 520.43,201.3 520.5,199.08 520.57,202.58 520.64,200.99 520.71,199.72 520.78,201.82 520.85,200.5 520.92,202.7 520.99,198.39 521.06,199.74 521.13,202.2 521.2,202.62 521.27,202.46 521.34,204.55 521.41,202.14 521.48,201.83 521.55,203.8 521.62,202.23 521.69,203.3 521.76,204.58 521.83,202.6 521.9,202.71 521.97,202.02 522.04,203.46 522.11,203.78 522.18,204.33 522.25,203.74 522.32,205.55 522.39,202.87 522.46,202.65 522.53,201.91 522.6,203.98 522.67,202.1 522.74,201.38 522.81,199.74 522.88,201.22 522.95,202.44 523.02,197.28 523.09,199.19 523.16,199.27 523.23,199.21 523.3,200.26 523.37,199.46 523.44,200.03 523.51,200.1 523.58,201.49 523.65,199.05 523.72,199.81 523.79,198.9 523.86,199.39 523.93,198.63 524,197.45 524.07,199.7 524.14,200.7 524.21,197.79 524.28,199.12 524.35,199.14 524.42,196.14 524.49,202.04 524.56,201.38 524.63,201 524.7,200.76 524.77,198.12 524.84,195.85 524.91,199.34 524.98,199.59 525.05,199.12 525.12,198.91 525.19,201.02 525.26,200.76 525.33,199.65 525.4,198.99 525.47,203.06 525.54,201.01 525.61,200 525.68,198.01 525.75,197.69 525.82,195.97 525.89,199.66 525.96,200.49 526.03,199.85 526.1,200.14 526.17,200.53 526.24,201.43 526.31,197.67 526.38,198.46 526.45,201.6 526.52,200.74 526.59,201.08 526.66,198.91 526.73,202.59 526.8,200.58 526.87,200.08 526.94,199.14 527.01,200.71 527.08,200.68 527.15,200.27 527.22,202.8 527.29,202.17 527.36,200.42 527.43,199.58 527.5,199.78 527.57,200.91 527.64,196.34 527.71,200.84 527.78,200.05 527.85,203.47 527.92,200.99 527.99,200.09 528.06,200.39 528.13,199.38 528.2,199.26 528.27,200.16 528.34,197.3 528.41,200.21 528.48,197.73 528.55,199.11 528.62,199.06 528.69,202.14 528.76,202.36 528.83,202.12 528.9,199.3 528.97,199.65 529.04,200.01 529.11,200.15 529.18,201.53 529.25,200.85 529.32,199.82 529.39,202.62 529.46,201.09 529.53,202.43 529.6,199.63 529.67,200.52 529.74,200.14 529.81,199.88 529.88,198.06 529.95,199.93 530.02,197.4 530.09,200.07 530.16,201.99 530.23,201.1 530.3,199.83 530.37,198.92 530.44,200.42 530.51,197.73 530.58,197.44 530.65,197.25 530.72,199.67 530.79,197.12 530.86,199.86 530.93,200.43 531,199.89 531.07,198.69 531.14,199.41 531.21,196.98 531.28,198.98 531.35,201.1 531.42,200.74 531.49,196.24 531.56,198.34 531.63,197.98 531.7,199.77 531.77,198.8 531.84,198.23 531.91,197.41 531.98,198.55 532.05,198.1 532.12,198.38 532.19,198.05 532.26,196.46 532.33,198.84 532.4,198.88 532.47,198.53 532.54,198.57 532.61,199.96 532.68,199.75 532.75,200.57 532.82,199.15 532.89,199.36 532.96,198.29 533.03,196.57 533.1,196.37 533.17,198.82 533.24,198.24 533.31,198.83 533.38,194.65 533.45,197.67 533.52,198.13 533.59,197.4 533.66,197.53 533.73,195.27 533.8,197.71 533.87,199.7 533.94,196.17 534.01,198.62 534.08,196.75 534.15,198.06 534.22,199.87 534.29,197.86 534.36,198.32 534.43,198.71 534.5,197.71 534.57,199.59 534.64,194.83 534.71,197.27 534.78,194.95 534.85,195.5 534.92,197.7 534.99,195.94 535.06,197.11 535.13,199.67 535.2,198.48 535.27,203.16 535.34,197.54 535.41,197.78 535.48,194.08 535.55,197.64 535.62,197 535.69,198.37 535.76,197.72 535.83,196.72 535.9,194.8 535.97,198.77 536.04,196.62 536.11,195.12 536.18,198.21 536.25,191.72 536.32,196.71 536.39,194.58 536.46,197.17 536.53,195.12 536.6,201.84 536.67,199.22 536.74,198.27 536.81,198.08 536.88,198.53 536.95,198.81 537.02,197.97 537.09,195.97 537.16,197.81 537.23,195.28 537.3,197.04 537.37,198.16 537.44,195.98 537.51,198.21 537.58,196.87 537.65,201.05 537.72,197.02 537.79,198.3 537.86,198.49 537.93,197.79 538,198.06 538.07,197.21 538.14,197.8 538.21,197.86 538.28,198.82 538.35,199.47 538.42,197.62 538.49,199.7 538.56,197.65 538.63,196.3 538.7,197.04 538.77,196.72 538.84,197.36 538.91,197.79 538.98,198.02 539.05,199.4 539.12,198.78 539.19,197.09 539.26,198.51 539.33,197.61 539.4,198.83 539.47,199.5 539.54,197.55 539.61,198.82 539.68,199.69 539.75,198.25 539.82,196.14 539.89,197.55 539.96,196.43 540.03,199.14 540.1,198 540.17,198.17 540.24,200.25 540.31,198.78 540.38,197.92 540.45,195.15 540.52,196.98 540.59,195.77 540.66,197.46 540.73,195.98 540.8,198.63 540.87,199.52 540.94,196.75 541.01,195.71 541.08,197.92 541.15,197.45 541.22,199.18 541.29,197.71 541.36,196.76 541.43,195.87 541.5,197.82 541.57,194.56 541.64,196.27 541.71,198.79 541.78,197.58 541.85,197.73 541.92,197.46 541.99,195.88 542.06,197.23 542.13,198.37 542.2,198.42 542.27,196.3 542.34,197.78 542.41,198.88 542.48,197.95 542.55,199.58 542.62,197.55 542.69,195.34 542.76,197.41 542.83,197.57 542.9,198.16 542.97,197.87 543.04,199.06 543.11,197.81 543.18,197.21 543.25,196.22 543.32,196.46 543.39,198.19 543.46,198.74 543.53,196.77 543.6,196.43 543.67,195.81 543.74,196.11 543.81,195.7 543.88,194.9 543.95,196.08 544.02,193.81 544.09,194.72 544.16,194.39 544.23,194.43 544.3,193.31 544.37,191.54 544.44,192.35 544.51,191.18 544.58,190.91 544.65,189.96 544.72,190.25 544.79,187.44"/>
<polyline fill="none" stroke="#000" stroke-width="0.6" stroke-linejoin="round" points="544.72,190.25 544.79,187.44 544.86,186.53 544.93,185.94 545,183.63 545.07,181.07 545.14,179.27 545.21,176.74 545.28,172.23 545.35,168 545.42,161.65 545.49,155.31 545.56,147.83 545.63,139.08 545.7,129.68 545.77,121.48 545.84,115.77 545.91,114.05 545.98,117.03 546.05,123.59 546.12,132.58 546.19,140.93 546.26,150.12 546.33,158.66 546.4,163.69 546.47,168.65 546.54,172.75 546.61,176.41 546.68,179.04 546.75,181.97 546.82,183.82 546.89,185.81 546.96,187.03 547.03,188.41 547.1,189.69"/>
<polyline fill="none" stroke="#000" stroke-width="0.85" stroke-linejoin="round" points="547.03,188.41 547.1,189.69 547.17,190.43 547.24,192.24 547.31,192.13 547.38,191.67 547.45,192.96 547.52,193.56 547.59,193.42 547.66,194.35 547.73,194.53 547.8,195.57 547.87,194.37 547.94,193.73 548.01,194.43 548.08,192.94 548.15,192.22 548.22,194.14 548.29,194.84 548.36,194.73 548.43,197.07 548.5,194.41 548.57,194.31 548.64,198.31 548.71,193.95 548.78,196.85 548.85,195.73 548.92,192.56 548.99,197.07 549.06,195.32 549.13,196.18 549.2,195.92 549.27,196 549.34,196.69 549.41,198.32 549.48,195.71 549.55,195.04 549.62,196.46 549.69,195.83 549.76,191.72 549.83,195.75 549.9,194.59 549.97,194.81 550.04,193.17 550.11,197.82 550.18,195.91 550.25,194.63 550.32,194.7 550.39,195.06 550.46,195.2 550.53,196.49 550.6,195.97 550.67,194.75 550.74,195.17 550.81,196.4 550.88,194.22 550.95,195.06 551.02,197.04 551.09,195.73 551.16,197.82 551.23,194.22 551.3,195.24 551.37,194.79 551.44,194.76 551.51,197.12 551.58,197.61 551.65,196.3 551.72,196.05 551.79,201.46 551.86,198.63 551.93,193.43 552,196.32 552.07,193.59 552.14,194.33 552.21,195.64 552.28,194.98 552.35,197.54 552.42,196.13 552.49,196.44 552.56,196.71 552.63,199.38 552.7,197.36 552.77,198.29 552.84,197.77 552.91,198.81 552.98,197.17 553.05,197.06 553.12,201.01 553.19,197.48 553.26,194.98 553.33,195.52 553.4,196.76 553.47,198.16 553.54,196.38 553.61,199.72 553.68,198.22 553.75,197.29 553.82,195.97 553.89,198.81 553.96,198.75 554.03,196.23 554.1,199.88 554.17,199.8 554.24,200.23 554.31,198.1 554.38,199.56 554.45,195.29 554.52,198.92 554.59,197.77 554.66,198.28 554.73,199.13 554.8,197.5 554.87,198.3 554.94,197.18 555.01,197.51 555.08,197.07 555.15,199.25 555.22,200.61 555.29,197.42 555.36,194.26 555.43,198.57 555.5,199.49 555.57,199.31 555.64,197.26 555.71,198.98 555.78,197.76 555.85,198.39 555.92,198.81 555.99,198.38 556.06,199.67 556.13,198.27 556.2,201.2 556.27,199.18 556.34,197.38 556.41,200.44 556.48,200.26 556.55,199.4 556.62,199.02 556.69,199.51 556.76,200.26 556.83,198.84 556.9,200.22 556.97,198.2 557.04,199.75 557.11,197.59 557.18,199.53 557.25,199.86 557.32,198.25 557.39,199.56 557.46,196.34 557.53,198.89 557.6,198.66 557.67,200.85 557.74,198.98 557.81,200.51 557.88,201.78 557.95,199.18 558.02,200.31 558.09,201.46 558.16,200.42 558.23,200.63 558.3,198.76 558.37,199.63 558.44,197.63 558.51,200.33 558.58,199.7 558.65,199.71 558.72,196.43 558.79,200.57 558.86,201.3 558.93,201.11 559,199.78 559.07,201.04 559.14,199.19 559.21,198.21 559.28,199.07 559.35,198.11 559.42,201.64 559.49,195.62 559.56,199.48 559.63,197.9 559.7,198.33 559.77,200.13 559.84,199.01 559.91,200.66 559.98,198.89 560.05,198.91 560.12,199.22 560.19,200.84 560.26,198.09 560.33,198.6 560.4,198.25 560.47,198.37 560.54,197.26 560.61,198.56 560.68,199.61 560.75,200.97 560.82,199.62 560.89,198.12 560.96,200.98 561.03,196.48 561.1,199.6 561.17,197.18 561.24,198.7 561.31,196.97 561.38,196.7 561.45,198.06 561.52,201.33 561.59,199.31 561.66,200.06 561.73,198.31 561.8,198.8 561.87,197.68 561.94,197.92 562.01,198.27 562.08,200.05 562.15,199.16 562.22,197.65 562.29,198.43 562.36,197.43 562.43,200.17 562.5,198.99 562.57,198.96 562.64,199.59 562.71,199.37 562.78,200.62 562.85,197.52 562.92,199.59 562.99,198.3 563.06,199.83 563.13,197.82 563.2,196.21 563.27,197.91 563.34,197.61 563.41,196.96 563.48,197.93 563.55,200.04 563.62,197.97 563.69,199.36 563.76,200.31 563.83,199.82 563.9,199.03 563.97,199.65 564.04,197.78 564.11,196.57 564.18,196.27 564.25,199.62 564.32,200.2 564.39,197.92 564.46,198.36 564.53,195.15 564.6,199.3 564.67,198.16 564.74,195.76 564.81,198.97 564.88,199.11 564.95,199.43 565.02,198.14 565.09,198.64 565.16,197.11 565.23,200.18 565.3,197.84 565.37,199.98 565.44,199.01 565.51,197.98 565.58,200.04 565.65,197.41 565.72,198.78 565.79,198.47 565.86,198.1 565.93,198.52 566,199.19 566.07,197.75 566.14,197.58 566.21,197.95 566.28,197.48 566.35,196.89 566.42,198.48 566.49,195.88 566.56,197.93 566.63,197.4 566.7,198.14 566.77,198.47 566.84,198.16 566.91,197.78 566.98,199.35 567.05,197.04 567.12,196.16 567.19,197.24 567.26,198.27 567.33,199.46 567.4,199.68 567.47,197.61 567.54,198.37 567.61,198.74 567.68,196.31 567.75,198.25 567.82,196.97 567.89,196.2 567.96,196.64 568.03,196.48 568.1,193.79 568.17,195.35 568.24,195.12 568.31,194.01 568.38,194.22 568.45,193.33 568.52,192.55 568.59,192.26 568.66,190.79 568.73,190.78 568.8,189.76"/>
<polyline fill="none" stroke="#000" stroke-width="0.6" stroke-linejoin="round" points="568.73,190.78 568.8,189.76 568.87,188.43 568.94,187.04 569.01,184.91 569.08,182.74 569.15,179.75 569.22,176.65 569.29,173.23 569.36,169.22 569.43,163.28 569.5,157.06 569.57,148.99 569.64,139.58 569.71,130.77 569.78,122.68 569.85,117.42 569.92,117.09 569.99,120.79 570.06,127.22 570.13,136.71 570.2,145.69 570.27,153.54 570.34,161.16 570.41,166.83 570.48,172.28 570.55,176.66 570.62,179.24 570.69,183.3 570.76,184.52 570.83,187.15 570.9,188.61 570.97,190.52 571.04,191.08 571.11,192.26"/>
<polyline fill="none" stroke="#000" stroke-width="0.85" stroke-linejoin="round" points="571.04,191.08 571.11,192.26 571.18,194.68 571.25,195.01 571.32,195.33 571.39,194.93 571.46,196.2 571.53,195.1 571.6,196.16 571.67,198 571.74,198.26 571.81,197.51 571.88,198.83 571.95,199.21 572.02,197.55 572.09,199.04 572.16,198.91 572.23,200.71 572.3,197.88 572.37,199.93 572.44,199.36 572.51,202.04 572.58,194.35 572.65,201.89 572.72,199.69 572.79,200.65 572.86,198.21 572.93,198.47 573,199.83 573.07,200.27 573.14,197.11 573.21,199.39 573.28,199.09 573.35,199.85 573.42,201.14 573.49,200.68 573.56,199.93 573.63,198.67 573.7,198.15 573.77,200.4 573.84,202.2 573.91,200.27 573.98,201.48 574.05,198.73 574.12,201.47 574.19,199.95 574.26,200.37 574.33,201.11 574.4,201.24 574.47,200.56 574.54,200.73 574.61,200.64 574.68,198.3 574.75,199.78 574.82,200.22 574.89,202.43 574.96,198.6 575.03,200.36 575.1,201.6 575.17,201.19 575.24,199 575.31,198.56 575.38,199.55 575.45,200.71 575.52,201.42 575.59,200.04 575.66,200.5 575.73,199.8 575.8,199.22 575.87,202.04 575.94,202.79 576.01,200.19 576.08,199.28 576.15,201.32 576.22,198.41 576.29,198.6 576.36,200.66 576.43,202.97 576.5,199.95 576.57,200.57 576.64,202.63 576.71,198.89 576.78,198.37 576.85,203.53 576.92,201.95 576.99,200.02 577.06,201.29 577.13,201.84 577.2,200.23 577.27,204.1 577.34,198.35 577.41,202.87 577.48,201.19 577.55,200.92 577.62,201.03 577.69,199.8 577.76,200.42 577.83,199.36 577.9,198.72 577.97,201.54 578.04,198.89 578.11,199.4 578.18,203.44 578.25,200.04 578.32,202.9 578.39,202.62 578.46,201.1 578.53,205.15 578.6,200.04 578.67,199.61 578.74,200.21 578.81,200.37 578.88,201.57 578.95,203.62 579.02,199.76 579.09,200.55 579.16,200.92 579.23,201.34 579.3,200.54 579.37,202.91 579.44,200.49 579.51,199.76 579.58,203.41 579.65,203.06 579.72,201.12 579.79,199.94 579.86,201.41 579.93,202.22 580,205.58 580.07,203.56 580.14,200.92 580.21,201.45 580.28,201.11 580.35,201.48 580.42,200.81 580.49,200.96 580.56,201.27 580.63,201.67 580.7,199.05 580.77,201.02 580.84,202.61 580.91,202.24 580.98,202.6 581.05,202.7 581.12,202.44 581.19,203.17 581.26,201.8 581.33,200.13 581.4,203.52 581.47,202.33 581.54,199.55 581.61,203.05 581.68,202.99 581.75,200.19 581.82,202.56 581.89,201.92 581.96,202.51 582.03,201.28 582.1,206.62 582.17,200.82 582.24,200.7 582.31,201.55 582.38,202.08 582.45,201.4 582.52,204.16 582.59,200.86 582.66,205.31 582.73,200.37 582.8,202.88 582.87,204.61 582.94,208.48 583.01,202.08 583.08,200.44 583.15,201.48 583.22,201.77 583.29,203.34 583.36,201.25 583.43,203.75 583.5,201.34 583.57,203.62 583.64,205.89 583.71,203.61 583.78,204.19 583.85,202.95 583.92,202.35 583.99,203.44 584.06,203.57 584.13,199.19 584.2,201.84 584.27,205.5 584.34,203.64 584.41,203.54 584.48,202.45 584.55,202.49 584.62,202.8 584.69,199.02 584.76,205.13 584.83,203.51 584.9,202.09 584.97,204.68 585.04,202.94 585.11,204.81 585.18,202.4 585.25,204.14 585.32,201.23 585.39,204.22 585.46,201.47 585.53,203.26 585.6,203.73 585.67,201.43 585.74,203.46 585.81,202.81 585.88,203.47 585.95,204.44 586.02,203.38 586.09,204.78 586.16,202.57 586.23,202.5 586.3,204.61 586.37,202.61 586.44,204.61 586.51,203.05 586.58,203.96 586.65,204.56 586.72,203.56 586.79,203.75 586.86,203.17 586.93,205.41 587,203.95 587.07,204.01 587.14,204.88 587.21,204.71 587.28,204.39 587.35,205.36 587.42,205.18 587.49,204.58 587.56,204.7 587.63,205.86 587.7,204.95 587.77,204.41 587.84,204.5 587.91,204.64 587.98,205.06 588.05,203.2 588.12,203.61 588.19,202.85 588.26,202.79 588.33,202.06 588.4,201.54"/>
<polyline fill="none" stroke="#000" stroke-width="0.6" stroke-linejoin="round" points="588.33,202.06 588.4,201.54 588.47,201.05 588.54,200.62 588.61,200.35 588.68,200.34 588.75,198.59 588.82,197.95 588.89,197.3 588.96,197.18 589.03,196.23 589.1,195.19 589.17,193.74 589.24,192.31 589.31,190.52 589.38,189.49 589.45,187.92 589.52,185.8 589.59,183.69 589.66,181.21 589.73,179.26 589.8,176.22 589.87,173.42 589.94,169.26 590.01,165.26 590.08,161.4 590.15,155.92 590.22,149.64 590.29,143.62 590.36,136.53 590.43,129.13 590.5,120.38 590.57,112.73 590.64,104.01 590.71,95.3 590.78,87.69 590.85,81.5 590.92,77.16 590.99,76.03 591.06,76.18 591.13,80.91 591.2,85.26 591.27,93 591.34,100.75 591.41,109.48 591.48,118.34 591.55,126.15 591.62,134.7 591.69,141.72 591.76,148.36 591.83,154.28 591.9,158.94 591.97,163.84 592.04,167.99 592.11,172.21 592.18,175.06 592.25,177.74 592.32,180.83 592.39,182.92 592.46,185.53 592.53,187.64 592.6,189.23 592.67,190.15 592.74,192.19 592.81,192.83 592.88,194.2 592.95,195.78 593.02,196.5 593.09,198.01 593.16,198.47 593.23,199 593.3,200.06 593.37,200.34 593.44,201.4 593.51,200.65 593.58,201.97 593.65,202.15 593.72,202.9"/>
<polyline fill="none" stroke="#000" stroke-width="0.85" stroke-linejoin="round" points="593.65,202.15 593.72,202.9 593.79,203.16 593.86,204.5 593.93,204.39 594,204.45 594.07,205.24 594.14,203.67 594.21,205.97 594.28,204.01 594.35,205.42 594.42,206.67 594.49,204.53 594.56,204.66 594.63,203.58 594.7,203.78 594.77,205.42 594.84,205.33 594.91,204.82 594.98,205.57 595.05,204.93 595.12,204.6 595.19,205.11 595.26,204.43 595.33,203.39 595.4,205.41 595.47,206.12 595.54,206.94 595.61,206.45 595.68,205.54 595.75,205.02 595.82,205.82 595.89,206.3 595.96,205.92 596.03,205.47 596.1,206.46 596.17,203.55 596.24,206.81 596.31,208.03 596.38,204.73 596.45,206.85 596.52,205.73 596.59,205.34 596.66,207.79 596.73,206.97 596.8,206.06 596.87,208.34 596.94,206.93 597.01,204.18 597.08,208.18 597.15,206.51 597.22,208.31 597.29,205.22 597.36,205.33 597.43,205.89 597.5,206.88 597.57,207.38 597.64,205.59 597.71,210.77 597.78,205.39 597.85,206.06 597.92,209.12 597.99,208.98 598.06,208.56 598.13,207.16 598.2,206.87 598.27,209.57 598.34,205.16 598.41,206.04 598.48,206.87 598.55,207.09 598.62,208.22 598.69,207.04 598.76,207.33 598.83,207.56 598.9,206.61 598.97,207.33 599.04,205.56 599.11,205.9 599.18,207.12 599.25,206.69 599.32,207.97 599.39,207.27 599.46,207.6 599.53,208.52 599.6,205.05 599.67,205.9 599.74,206.96 599.81,209.75 599.88,206.89 599.95,209.82 600.02,208.83 600.09,207.69 600.16,208.12 600.23,208.37 600.3,207.08 600.37,209.59 600.44,208.3 600.51,207.73 600.58,206.97 600.65,208.53 600.72,208.56 600.79,208.96 600.86,210.86 600.93,208.74 601,207.12 601.07,207.09 601.14,206.34 601.21,206.73 601.28,206.33 601.35,209.29 601.42,205.16 601.49,209.95 601.56,206.48 601.63,206.33 601.7,207.04 601.77,208.06 601.84,208.22 601.91,207.51 601.98,209.55 602.05,206.5 602.12,207 602.19,209.16 602.26,206.55 602.33,207.24 602.4,208.97 602.47,209.08 602.54,209.08 602.61,209.19 602.68,208.32 602.75,208.63 602.82,208.57 602.89,208.32 602.96,209.62 603.03,208.46 603.1,209.56 603.17,208.48 603.24,209.66 603.31,205.51 603.38,211.1 603.45,207.41 603.52,208.12 603.59,207.38 603.66,211 603.73,206.76 603.8,208.19 603.87,208.29 603.94,211.64 604.01,210.42 604.08,207.56 604.15,208.34 604.22,208.87 604.29,207.73 604.36,210.53 604.43,209.59 604.5,206.66 604.57,208.87 604.64,208.73 604.71,208.22 604.78,209.15 604.85,209.72 604.92,208.55 604.99,208.12 605.06,209.34 605.13,206.82 605.2,210.14 605.27,207.35 605.34,209.15 605.41,208.78 605.48,209.65 605.55,208.35 605.62,209.52 605.69,207.14 605.76,210.7 605.83,209.75 605.9,210.21 605.97,208.53 606.04,209.42 606.11,208.69 606.18,209.15 606.25,207.98 606.32,209.11 606.39,206.35 606.46,210.41 606.53,207.89 606.6,210.16 606.67,210.69 606.74,209.96 606.81,208.06 606.88,209.56 606.95,209.95 607.02,210 607.09,209.65 607.16,209.35 607.23,209.02 607.3,209.14 607.37,209.62 607.44,209.47 607.51,209.36 607.58,209.41 607.65,209.84 607.72,209.4 607.79,210.65 607.86,210.01 607.93,210.85 608,209.48 608.07,209.35 608.14,209.53 608.21,209.65 608.28,209.62 608.35,209.94 608.42,208.16 608.49,208.97 608.56,207.85 608.63,207.78 608.7,207.65 608.77,207.3"/>
<polyline fill="none" stroke="#000" stroke-width="0.6" stroke-linejoin="round" points="608.7,207.65 608.77,207.3 608.84,207.31 608.91,206.23 608.98,206.23 609.05,205.43 609.12,204.5 609.19,204.25 609.26,203.02 609.33,202.61 609.4,202.28 609.47,200.93 609.54,199.67 609.61,198.39 609.68,197.39 609.75,196.04 609.82,195.61 609.89,193.84 609.96,192.05 610.03,190.53 610.1,189.33 610.17,186.64 610.24,184.62 610.31,183.22 610.38,180.72 610.45,177.78 610.52,176.06 610.59,173.46 610.66,171.03 610.73,168.7 610.8,166.52 610.87,164.79 610.94,163.36 611.01,161.33 611.08,160.86 611.15,159.06 611.22,159.96 611.29,161.19 611.36,161.24 611.43,162.34 611.5,164.6 611.57,166.12 611.64,168.12 611.71,170.47 611.78,172.11 611.85,174.86 611.92,178 611.99,179.94 612.06,182.52 612.13,183.73 612.2,185.97 612.27,188.37 612.34,190.21 612.41,190.84 612.48,193.2 612.55,194.57 612.62,195.81 612.69,197.46 612.76,198.16 612.83,199.72 612.9,200.82 612.97,201.32 613.04,202.42 613.11,202.34 613.18,204.15 613.25,204.67 613.32,204.69 613.39,205.3 613.46,206.47 613.53,207.83 613.6,207.61 613.67,207.59"/>
<polyline fill="none" stroke="#000" stroke-width="0.85" stroke-linejoin="round" points="613.6,207.61 613.67,207.59 613.74,208.34 613.81,208.04 613.88,208.95 613.95,209.18 614.02,209.96 614.09,210.87 614.16,210.3 614.23,211.99 614.3,210.9 614.37,211.33 614.44,211.19 614.51,210.68 614.58,211.07 614.65,211.35 614.72,213.06 614.79,211.75 614.86,210.68 614.93,212.28 615,212.34 615.07,211.05 615.14,212.49 615.21,212.29 615.28,210.81 615.35,213.83 615.42,210.66 615.49,210.18 615.56,212.7 615.63,210.34 615.7,209.2 615.77,211.23 615.84,212.05 615.91,211.86 615.98,211.3 616.05,210.26 616.12,212.97 616.19,212.76 616.26,211.88 616.33,212.21 616.4,209.52 616.47,212.41 616.54,213.2 616.61,212.57 616.68,212.69 616.75,211.91 616.82,211.86 616.89,209.01 616.96,211.06 617.03,212.03 617.1,210.64 617.17,210 617.24,211.41 617.31,210.83 617.38,213.52 617.45,211.57 617.52,211.92 617.59,213.84 617.66,210.84 617.73,212.6 617.8,214.3 617.87,211.24 617.94,211.87 618.01,213.72 618.08,213.65 618.15,211.8 618.22,211.9 618.29,211.9 618.36,211.63 618.43,213.64 618.5,212.36 618.57,211.84 618.64,211.87 618.71,214.01 618.78,209.25 618.85,212.41 618.92,213.32 618.99,212.12 619.06,211.77 619.13,213.78 619.2,213.45 619.27,215.77 619.34,212.34 619.41,213.79 619.48,211.88 619.55,214.92 619.62,214.66 619.69,214.19 619.76,214.77 619.83,214.36 619.9,214.03 619.97,213.43 620.04,214.69 620.11,214.22 620.18,213.03 620.25,213.42 620.32,213.76 620.39,215.57 620.46,213.6 620.53,213.35 620.6,211.82 620.67,214.63 620.74,213.89 620.81,213.8 620.88,213.8 620.95,214.31 621.02,211.31 621.09,212.3 621.16,213.17 621.23,214.62 621.3,214.14 621.37,214.75 621.44,213.98 621.51,214.34 621.58,212.54 621.65,212.75 621.72,213.16 621.79,213.09 621.86,214.36 621.93,213.45 622,213.46 622.07,213.32 622.14,215.35 622.21,212.74 622.28,214.24 622.35,212.61 622.42,213.8 622.49,213.8 622.56,213.01 622.63,211.88 622.7,213.73 622.77,213.53 622.84,212.9 622.91,213.02 622.98,212.78 623.05,216.41 623.12,212.56 623.19,211.02 623.26,210.88 623.33,214.1 623.4,210.64 623.47,213.88 623.54,212.35 623.61,213.33 623.68,213.03 623.75,214.24 623.82,212.33 623.89,212.71 623.96,211.73 624.03,209.95 624.1,214.67 624.17,210.96 624.24,213.64 624.31,215.58 624.38,213.43 624.45,211.6 624.52,215.21 624.59,211.23 624.66,214.29 624.73,214.64 624.8,211.09 624.87,213.92 624.94,211.76 625.01,213.71 625.08,210.2 625.15,215.58 625.22,214.07 625.29,213.18 625.36,212.29 625.43,215.24 625.5,213.86 625.57,213.74 625.64,212.62 625.71,212.76 625.78,213.17 625.85,212.05 625.92,213.56 625.99,215.82 626.06,214.07 626.13,214.51 626.2,214.04 626.27,216.72 626.34,212.7 626.41,210.78 626.48,209.17 626.55,212.73 626.62,213.88 626.69,215.02 626.76,211.41 626.83,212.72 626.9,215.71 626.97,211.24 627.04,212.19 627.11,213.08 627.18,212.04 627.25,213.5 627.32,210.75 627.39,212.51 627.46,212.63 627.53,214.94 627.6,214.25 627.67,214.35 627.74,211.96 627.81,215.35 627.88,213.14 627.95,215.41 628.02,211.2 628.09,211.83 628.16,212.54 628.23,215.58 628.3,211.97 628.37,213.44 628.44,212.84 628.51,214.86 628.58,213.2 628.65,215.98 628.72,212.2 628.79,216.73 628.86,213.75 628.93,211.84 629,214.7 629.07,213.52 629.14,212.35 629.21,215.62 629.28,212.96 629.35,211.94 629.42,214.13 629.49,214.81 629.56,214.73 629.63,211.52 629.7,216.02 629.77,214.03 629.84,214.55 629.91,212.05 629.98,212.45 630.05,212.84 630.12,213.69 630.19,216.89 630.26,214 630.33,213.89 630.4,215.72 630.47,216.02 630.54,215.03 630.61,213.07 630.68,211.28 630.75,210.35 630.82,213.15 630.89,212.64 630.96,214.91 631.03,216.58 631.1,213.03 631.17,213.37 631.24,213.75 631.31,210.92 631.38,213.81 631.45,215.18 631.52,217.9 631.59,211.78 631.66,215.17 631.73,216.3 631.8,212.25 631.87,213.63 631.94,216.03 632.01,213.02 632.08,213.5 632.15,214.42 632.22,215.92 632.29,214.67 632.36,213.32 632.43,215.02 632.5,212.59 632.57,212.01 632.64,213.5 632.71,213.69 632.78,214.18 632.85,214.28 632.92,213.18 632.99,211.12 633.06,211.26 633.13,213.38 633.2,215.08 633.27,212.53 633.34,213.06 633.41,214.84 633.48,211.99 633.55,214.96 633.62,213.16 633.69,213.1 633.76,214.82 633.83,212.94 633.9,215.34 633.97,212.26 634.04,212.61 634.11,213.14 634.18,214.95 634.25,212.42 634.32,214.27 634.39,214.46 634.46,215.51 634.53,212.99 634.6,214.43 634.67,215.17 634.74,216.76 634.81,213.82 634.88,214.5 634.95,214.09 635.02,208.88 635.09,213.94 635.16,213.55 635.23,212 635.3,212.41 635.37,213.43 635.44,213.85 635.51,213.61 635.58,212.97 635.65,213.93 635.72,215.1 635.79,213.56 635.86,217.66 635.93,216.14 636,215.42 636.07,213.2 636.14,213.61 636.21,209.96 636.28,213.52 636.35,213.3 636.42,212.56 636.49,210.38 636.56,215.09 636.63,215.47 636.7,213.58 636.77,215.21 636.84,213.43 636.91,210.98 636.98,213.89 637.05,213.34 637.12,213.65 637.19,213.91 637.26,212.46 637.33,211.72 637.4,215.72 637.47,214.39 637.54,214.88 637.61,212.6 637.68,210.38 637.75,212.11 637.82,216.25 637.89,215.2 637.96,211.41 638.03,213.4 638.1,212.69 638.17,214.64 638.24,217.3 638.31,213.79 638.38,215.35 638.45,214.55 638.52,214.12 638.59,213.35 638.66,213.92 638.73,215.8 638.8,215.65 638.87,216.1 638.94,213.93 639.01,214.1 639.08,215.34 639.15,214.91 639.22,213.88 639.29,214.47 639.36,217.61 639.43,215.03 639.5,216.12 639.57,216.71 639.64,215.18 639.71,218.01 639.78,215.87 639.85,216.65 639.92,214.9 639.99,216.56 640.06,215.48 640.13,216.47 640.2,214.7 640.27,214.74 640.34,215.47 640.41,216.69 640.48,213.75 640.55,215.76 640.62,215.57 640.69,218.95 640.76,209.37 640.83,213.6 640.9,216.84 640.97,216.24 641.04,216.51 641.11,215.82 641.18,216.24 641.25,216.42 641.32,217.03 641.39,214.01 641.46,214.65 641.53,217.27 641.6,217.23 641.67,214.41 641.74,218.01 641.81,216.4 641.88,216.83 641.95,215.28 642.02,214.39 642.09,215.48 642.16,215.29 642.23,213.87 642.3,215.33 642.37,215.16 642.44,212.93 642.51,213.87 642.58,214.57 642.65,213.64 642.72,215.21 642.79,215.6 642.86,212.84 642.93,214.04 643,213.98 643.07,214.18 643.14,211.41 643.21,211.64 643.28,212.54 643.35,212.75 643.42,211.51 643.49,210.06 643.56,210.33 643.63,208.85 643.7,207.72 643.77,207.4 643.84,206.49"/>
<polyline fill="none" stroke="#000" stroke-width="0.6" stroke-linejoin="round" points="643.77,207.4 643.84,206.49 643.91,205.49 643.98,203.09 644.05,200.69 644.12,198.05 644.19,195.76 644.26,191.5 644.33,187.57 644.4,182.33 644.47,175.78 644.54,169.12 644.61,162.15 644.68,156.26 644.75,151.7 644.82,151.1 644.89,153.9 644.96,158.73 645.03,165.73 645.1,172.67 645.17,179.34 645.24,184.43 645.31,189.53 645.38,193.55 645.45,197.14 645.52,199.25 645.59,201.96 645.66,203.32 645.73,204.89 645.8,205.6"/>
<polyline fill="none" stroke="#000" stroke-width="0.85" stroke-linejoin="round" points="645.73,204.89 645.8,205.6 645.87,206.67 645.94,208.03 646.01,208.17 646.08,210.29 646.15,209.88 646.22,212.42 646.29,210.15 646.36,211.6 646.43,211.85 646.5,211.81 646.57,212.3 646.64,209.85 646.71,212.39 646.78,213.69 646.85,212.58 646.92,211.27 646.99,212.46 647.06,213.1 647.13,214.25 647.2,212.45 647.27,214.76 647.34,212.51 647.41,214.75 647.48,213.93 647.55,216.66 647.62,214.61 647.69,215.43 647.76,213.46 647.83,211.36 647.9,214.03 647.97,214.14 648.04,213.13 648.11,214.08 648.18,211.63 648.25,213.81 648.32,213.37 648.39,216.17 648.46,214.33 648.53,214.39 648.6,214.34 648.67,211.68 648.74,212.99 648.81,216.11 648.88,215.22 648.95,212.51 649.02,214.78 649.09,213.87 649.16,215.08 649.23,214.62 649.3,214.44 649.37,212.63 649.44,214.06 649.51,213.34 649.58,214.16 649.65,215.84 649.72,215.12 649.79,215.38 649.86,215.72 649.93,212.99 650,214.27 650.07,216.09 650.14,216.4 650.21,211.57 650.28,213.23 650.35,215.25 650.42,219.09 650.49,213.74 650.56,214.53 650.63,215.07 650.7,216.04 650.77,212.8 650.84,213.91 650.91,214.14 650.98,213.87 651.05,214.07 651.12,215.61 651.19,216.72 651.26,215.8 651.33,215.31 651.4,214.91 651.47,214.02 651.54,213.22 651.61,213.29 651.68,216.69 651.75,216.83 651.82,215.91 651.89,215.59 651.96,215.23 652.03,215.87 652.1,214.61 652.17,213.9 652.24,213.24 652.31,215.46 652.38,213.9 652.45,212.6 652.52,214.73 652.59,214.14 652.66,216.53 652.73,217.52 652.8,216.32 652.87,216.77 652.94,218.36 653.01,213.71 653.08,213.8 653.15,215.65 653.22,215.09 653.29,216.03 653.36,217.35 653.43,215.67 653.5,213.19 653.57,219.83 653.64,214.24 653.71,213.92 653.78,217.4 653.85,213.36 653.92,212.4 653.99,215.88 654.06,214.68 654.13,216.1 654.2,217.52 654.27,216.04 654.34,215.34 654.41,216.72 654.48,216.4 654.55,220.16 654.62,214.57 654.69,217.86 654.76,215.59 654.83,216.6 654.9,213.07 654.97,214.39 655.04,214.18 655.11,210.95 655.18,215.05 655.25,218.19 655.32,213.55 655.39,217.97 655.46,215.71 655.53,215.94 655.6,213.88 655.67,216.21 655.74,218.01 655.81,215.07 655.88,216.03 655.95,215.9 656.02,215.31 656.09,214.47 656.16,217.6 656.23,217.06 656.3,214.92 656.37,217.63 656.44,214.66 656.51,216.01 656.58,213.6 656.65,213.12 656.72,215.14 656.79,218.34 656.86,216.04 656.93,217.42 657,218.33 657.07,216.35 657.14,214.68 657.21,215.97 657.28,215.09 657.35,216.51 657.42,214.96 657.49,217.63 657.56,217.22 657.63,215.98 657.7,215.76 657.77,216.24 657.84,215.46 657.91,215.73 657.98,216.71 658.05,214.45 658.12,214.75 658.19,214.92 658.26,212.2 658.33,216.72 658.4,214.5 658.47,216.66 658.54,209.62 658.61,211.9 658.68,213.89 658.75,214.23 658.82,215.09 658.89,214.66 658.96,214.99 659.03,213.29 659.1,215.53 659.17,213.38 659.24,210.47 659.31,210.94 659.38,210.45 659.45,210.44 659.52,209.35 659.59,209.14 659.66,208.57 659.73,206.27 659.8,205.23"/>
<polyline fill="none" stroke="#000" stroke-width="0.6" stroke-linejoin="round" points="659.73,206.27 659.8,205.23 659.87,204.49 659.94,202.47 660.01,200.07 660.08,196.5 660.15,193.31 660.22,188.72 660.29,183 660.36,178.01 660.43,173.21 660.5,168.57 660.57,165.72 660.64,165.46 660.71,169.14 660.78,173.61 660.85,178.62 660.92,184.71 660.99,188.71 661.06,192.82 661.13,196.45 661.2,199.23 661.27,201.53 661.34,202.72 661.41,205.98 661.48,206.59"/>
<polyline fill="none" stroke="#000" stroke-width="0.85" stroke-linejoin="round" points="661.41,205.98 661.48,206.59 661.55,207.61 661.62,207.99 661.69,209.01 661.76,210.11 661.83,209.76 661.9,211.52 661.97,211.83 662.04,211.23 662.11,211.08 662.18,212.95 662.25,214.98 662.32,212.87 662.39,213.94 662.46,212.79 662.53,212.1 662.6,214.68 662.67,212.97 662.74,216.25 662.81,212.73 662.88,211.66 662.95,214.14 663.02,214.9 663.09,215.01 663.16,214.08 663.23,212.35 663.3,215.59 663.37,212.73 663.44,217.27 663.51,213.45 663.58,213.73 663.65,213.94 663.72,216.35 663.79,217.2 663.86,215.19 663.93,215.29 664,213.31 664.07,216.14 664.14,211.49 664.21,216.52 664.28,215.63 664.35,213.85 664.42,216.32 664.49,216.35 664.56,218.06 664.63,217.84 664.7,215.77 664.77,216.27 664.84,213.86 664.91,216.96 664.98,212.33 665.05,215.1 665.12,213.93 665.19,215.29 665.26,216.92 665.33,215 665.4,216.39 665.47,214.56 665.54,217.12 665.61,217.84 665.68,216.67 665.75,216.52 665.82,215.27 665.89,217.67 665.96,218.44 666.03,216.39 666.1,216.7 666.17,216.06 666.24,214.89 666.31,216.62 666.38,214.48 666.45,218.52 666.52,219.47 666.59,218.22 666.66,217.38 666.73,216.73 666.8,217.06 666.87,215.1 666.94,217.33 667.01,217.09 667.08,217.96 667.15,219.65 667.22,217.49 667.29,219.51 667.36,218.39 667.43,216.14 667.5,218.21 667.57,217.34 667.64,218.1 667.71,218.13 667.78,217.91 667.85,217.14 667.92,218.3 667.99,217.03 668.06,216.41 668.13,217.46 668.2,215.23 668.27,218.36 668.34,218.72 668.41,217.29 668.48,219.56 668.55,218.81 668.62,217.87 668.69,218.44 668.76,218.88 668.83,216.88 668.9,218.28 668.97,218.58 669.04,218.34 669.11,216.97 669.18,219.44 669.25,214.4 669.32,216.98 669.39,217.55 669.46,219.86 669.53,215.28 669.6,215.81 669.67,215.77 669.74,217.07 669.81,216.26 669.88,215.8 669.95,218.71 670.02,218.14 670.09,217.28 670.16,216.32 670.23,216.89 670.3,217.1 670.37,220.46 670.44,215.66 670.51,216.5 670.58,216.46 670.65,216.72 670.72,218.24 670.79,215.06 670.86,215.51 670.93,218.72 671,217.36 671.07,219.18 671.14,215.83 671.21,214.56 671.28,215.87 671.35,215.66 671.42,217.61 671.49,215.36 671.56,216.65 671.63,217.58 671.7,216.6 671.77,215.85 671.84,215.81 671.91,216.56 671.98,217.15 672.05,214.56 672.12,213.95 672.19,218.24 672.26,213.62 672.33,215.34 672.4,214.42 672.47,217.58 672.54,215.98 672.61,217.55 672.68,217.43 672.75,214.43 672.82,215.69 672.89,212.93 672.96,214.5 673.03,216.37 673.1,215.87 673.17,215.75 673.24,215.2 673.31,214.41 673.38,216.05 673.45,215.28 673.52,214.98 673.59,216.51 673.66,214.34 673.73,217.73 673.8,214.63 673.87,217.43 673.94,215.21 674.01,214.22 674.08,214.63 674.15,216.01 674.22,215.72 674.29,215.95 674.36,215.38 674.43,214.71 674.5,214.18 674.57,214.04 674.64,214.77 674.71,212.34 674.78,215.58 674.85,215.39 674.92,215.18 674.99,214.13 675.06,215.45 675.13,216.55 675.2,214.05 675.27,214.17 675.34,215.29 675.41,216.18 675.48,214.21 675.55,217.05 675.62,213.15 675.69,221.19 675.76,214.19 675.83,214.76 675.9,215.55 675.97,214.5 676.04,216.31 676.11,215.64 676.18,219.04 676.25,216.94 676.32,218.35 676.39,217.28 676.46,218.95 676.53,217.96 676.6,215.32 676.67,216.92 676.74,218.17 676.81,218.31 676.88,214.66 676.95,216.39 677.02,215.45 677.09,215.62 677.16,218.14 677.23,218.18 677.3,214.68 677.37,216.28 677.44,219.72 677.51,220.02 677.58,219.54 677.65,216.63 677.72,218.62 677.79,220.03 677.86,218.35 677.93,217.84 678,217.5 678.07,218.96 678.14,219.88 678.21,221.18 678.28,218.38 678.35,218.67 678.42,216.29 678.49,220.26 678.56,217.61 678.63,220.7 678.7,217.47 678.77,218.47 678.84,219.59 678.91,219 678.98,215.14 679.05,218.3 679.12,218.9 679.19,222.35 679.26,220.74 679.33,221.11 679.4,219.79 679.47,221.06 679.54,218.97 679.61,216.83 679.68,217.76 679.75,219.48 679.82,217.96 679.89,218.72 679.96,218.57 680.03,220.99 680.1,214.86 680.17,216.88 680.24,219.06 680.31,218.45 680.38,221.92 680.45,220.28 680.52,219.22 680.59,218.01 680.66,219.1 680.73,218.69 680.8,216.64 680.87,217.58 680.94,219.76 681.01,219.46 681.08,219.04 681.15,221.5 681.22,217.56 681.29,218.45 681.36,220.18 681.43,220.76 681.5,217.9 681.57,219.5 681.64,218.53 681.71,217.55 681.78,219.13 681.85,217.96 681.92,220.43 681.99,219.63 682.06,218.71 682.13,220.83 682.2,221.19 682.27,218.08 682.34,216.63 682.41,218 682.48,219.22 682.55,215.52 682.62,215.88 682.69,220.78 682.76,219.02 682.83,219.8 682.9,219.12 682.97,218.26 683.04,219.53 683.11,218.71 683.18,220.62 683.25,219 683.32,219.46 683.39,218.72 683.46,217.33 683.53,218.03 683.6,220.04 683.67,216.31 683.74,219.09 683.81,218.25 683.88,218.53 683.95,221.1 684.02,217.18 684.09,217.58 684.16,217.67 684.23,220.87 684.3,219.82 684.37,216.73 684.44,217.69 684.51,218.61 684.58,218.46 684.65,218.04 684.72,220.34 684.79,217.65 684.86,219.59 684.93,218.99 685,218.8 685.07,216.3 685.14,217.61 685.21,220.96 685.28,219.73 685.35,216.82 685.42,219.41 685.49,216.51 685.56,220.22 685.63,217.99 685.7,221.51 685.77,220.94 685.84,220.21 685.91,217.39 685.98,219.15 686.05,217.6 686.12,218.28 686.19,216.58 686.26,218.79 686.33,219.95 686.4,220.16 686.47,215.9 686.54,217.55 686.61,217.27 686.68,220.55 686.75,217.52 686.82,219.92 686.89,219.27 686.96,220.3 687.03,218.62 687.1,218.32 687.17,220.33 687.24,220.73 687.31,218.91 687.38,217.94 687.45,218.37 687.52,218.74 687.59,220.52 687.66,217.94 687.73,220.97 687.8,217.16 687.87,219.35 687.94,217.92 688.01,219.62 688.08,222.66 688.15,218.07 688.22,220.9 688.29,217.15 688.36,219.84 688.43,222.71 688.5,219.66 688.57,216.75 688.64,218.39 688.71,219.37 688.78,217.56 688.85,221.54 688.92,220.27 688.99,218.03 689.06,220.24 689.13,219.62 689.2,216.64 689.27,221.66 689.34,220.8 689.41,216.2 689.48,221.04 689.55,219.05 689.62,220.25 689.69,219 689.76,217.26 689.83,219.25 689.9,221.32 689.97,216.29 690.04,218.94 690.11,218.01 690.18,219.91 690.25,217.02 690.32,219.73 690.39,218.56 690.46,219.96 690.53,218.97 690.6,217.51 690.67,218.92 690.74,219.59 690.81,219.32 690.88,221.37 690.95,218.59 691.02,219.59 691.09,220.38 691.16,221.41 691.23,218.35 691.3,218.52 691.37,218.77 691.44,217.65 691.51,217.28 691.58,220.34 691.65,219.84 691.72,220.73 691.79,221.11 691.86,217.95 691.93,218.68 692,217.88 692.07,218.65 692.14,220.99 692.21,216.97 692.28,220.85 692.35,217.87 692.42,219.72 692.49,221.96 692.56,220.69 692.63,216.92 692.7,219.05 692.77,220.76 692.84,216.91 692.91,216.86 692.98,218.96 693.05,216.85 693.12,216.83 693.19,218.56 693.26,220.41 693.33,219.16 693.4,220.34 693.47,219.22 693.54,219.16 693.61,219.93 693.68,217.93 693.75,218.16 693.82,218.35 693.89,218.16 693.96,217.13 694.03,218.13 694.1,218.07 694.17,220.09 694.24,217.52 694.31,219.77 694.38,217.73 694.45,221.18 694.52,217.09 694.59,214.06 694.66,219.5 694.73,219.22 694.8,219.17 694.87,220.75 694.94,220.2 695.01,217.79 695.08,217.24 695.15,218.75 695.22,217.53 695.29,217.74 695.36,217.78 695.43,220 695.5,220.16 695.57,218.73 695.64,220.04 695.71,217.6 695.78,218.43 695.85,219.7 695.92,217.67 695.99,220.68 696.06,218.41 696.13,218.82 696.2,219.87 696.27,216.59 696.34,219.34 696.41,218.15 696.48,216.24 696.55,218.28 696.62,219.67 696.69,215.66 696.76,219.26 696.83,215.76 696.9,217.77 696.97,218.49 697.04,221.09 697.11,219.16 697.18,219.11 697.25,219.77 697.32,220.1 697.39,218.93 697.46,219.25 697.53,219.57 697.6,218.47 697.67,222.02 697.74,219.75 697.81,220.32 697.88,220.49 697.95,218.07 698.02,218.63 698.09,219.59 698.16,218.66 698.23,218.75 698.3,218.82 698.37,218.97 698.44,220.41 698.51,216.26 698.58,220.13 698.65,217.72 698.72,221.56 698.79,219.78 698.86,220.59 698.93,220.15 699,219.5 699.07,218.51 699.14,219.43 699.21,220.87 699.28,218.54 699.35,218.8 699.42,218.68 699.49,219.51 699.56,218.88 699.63,220.5 699.7,217.64 699.77,217.79 699.84,220.15 699.91,220.46 699.98,219.97 700.05,221.58 700.12,220.53 700.19,218.1 700.26,217.6 700.33,218.47 700.4,218.31 700.47,219.31 700.54,218.27 700.61,218.25 700.68,218.43 700.75,218.94 700.82,219.46 700.89,219.02 700.96,220.1 701.03,219.1 701.1,218.9 701.17,219.98 701.24,221.18 701.31,218.21 701.38,217.09 701.45,216.65 701.52,219.25 701.59,214.04 701.66,218.23 701.73,219.38 701.8,215.35 701.87,217.99 701.94,218.53 702.01,217.97 702.08,217.72 702.15,215.06 702.22,217.22 702.29,215.47 702.36,216.17 702.43,216.96 702.5,217.5 702.57,216.96 702.64,219 702.71,215.19 702.78,216.69 702.85,215.87 702.92,215.13 702.99,215.11 703.06,215.75 703.13,215.76 703.2,213.52 703.27,215.34 703.34,213.27 703.41,213.49 703.48,213.18 703.55,212.37 703.62,211.09 703.69,211.26 703.76,210.99 703.83,209.97"/>
<polyline fill="none" stroke="#000" stroke-width="0.6" stroke-linejoin="round" points="703.76,210.99 703.83,209.97 703.9,209.55 703.97,208.52 704.04,208.04 704.11,206.9 704.18,206.34 704.25,204.56 704.32,203.56 704.39,201.65 704.46,200.57 704.53,198.46 704.6,197.78 704.67,196.49 704.74,194.49 704.81,194.14 704.88,193.23 704.95,192.95 705.02,192.61 705.09,192.62 705.16,192.83 705.23,193.98 705.3,195.18 705.37,195.48 705.44,197.19 705.51,197.93 705.58,200.01 705.65,201.51 705.72,202.81 705.79,202.89 705.86,204.63 705.93,205.06 706,206.83 706.07,206.68 706.14,207.23 706.21,208.77 706.28,208.61 706.35,209.37 706.42,209.25 706.49,211.05 706.56,210.14 706.63,210.69 706.7,210.99 706.77,211.64"/>
<polyline fill="none" stroke="#000" stroke-width="0.85" stroke-linejoin="round" points="706.7,210.99 706.77,211.64 706.84,211.43 706.91,212.13 706.98,212.63 707.05,213.65 707.12,213.82 707.19,212.99 707.26,213.64 707.33,213.56 707.4,212.99 707.47,213.67 707.54,214.32 707.61,214.39 707.68,214.82 707.75,215.77 707.82,215.82 707.89,215.81 707.96,215.26 708.03,215.9 708.1,217.02 708.17,216.86 708.24,215.35 708.31,217.2 708.38,216.9 708.45,216.82 708.52,218.18 708.59,217.48 708.66,217.18 708.73,218.13 708.8,217.27 708.87,218.28 708.94,217.09 709.01,219.27 709.08,217.08 709.15,218.9 709.22,217.55 709.29,219.92 709.36,219.65 709.43,218.41 709.5,219.45 709.57,220.24 709.64,218.37 709.71,218.96 709.78,220.26 709.85,217.31 709.92,217.11 709.99,219.94 710.06,219.27 710.13,217.7 710.2,218.91 710.27,220.65 710.34,220.34 710.41,218.39 710.48,222.77 710.55,220.62 710.62,219.28 710.69,221.36 710.76,221.35 710.83,219.96 710.9,219.06 710.97,221.54 711.04,222.07 711.11,220.67 711.18,218.64 711.25,219.38 711.32,222.9 711.39,219.14 711.46,219.95 711.53,220.36 711.6,219.44 711.67,221.09 711.74,221.03 711.81,219.39 711.88,220.85 711.95,220.94 712.02,222.53 712.09,222.99 712.16,218.64 712.23,219.81 712.3,220.67 712.37,221.51 712.44,218.93 712.51,215.42 712.58,221.34 712.65,219.12 712.72,219.31 712.79,219.49 712.86,219.31 712.93,221.41 713,217.02 713.07,221.34 713.14,221.44 713.21,220.06 713.28,220.49 713.35,218.15 713.42,220.22 713.49,219.66 713.56,218.14 713.63,219.28 713.7,219.42 713.77,220.24 713.84,219.14 713.91,218.2 713.98,219.17 714.05,218.07 714.12,220.43 714.19,220.06 714.26,220.32 714.33,221.78 714.4,220.98 714.47,219.39 714.54,218.22 714.61,219.51 714.68,225.68 714.75,219.31 714.82,219.83 714.89,218.66 714.96,220.59 715.03,219.61 715.1,222.23 715.17,219.38 715.24,218.16 715.31,222.16 715.38,219.74 715.45,219.61 715.52,219.33 715.59,218.02 715.66,217.65 715.73,219.77 715.8,217.62 715.87,217.36 715.94,217.51 716.01,218.54 716.08,215.08 716.15,218.94 716.22,217.48 716.29,221.2 716.36,219.42 716.43,216.33 716.5,221.44 716.57,218.79 716.64,217.15 716.71,219.56 716.78,217.18 716.85,220.36 716.92,216.04 716.99,216.82 717.06,217.8 717.13,218.71 717.2,219.34 717.27,217.06 717.34,216.29 717.41,216.36 717.48,217.95 717.55,218.29 717.62,214.48 717.69,217.03 717.76,218.59 717.83,215.72 717.9,214.67 717.97,214.82 718.04,214.21 718.11,212.67 718.18,211.14 718.25,210.99 718.32,210.98"/>
<polyline fill="none" stroke="#000" stroke-width="0.6" stroke-linejoin="round" points="718.25,210.99 718.32,210.98 718.39,210.17 718.46,210.28 718.53,210.18"/>
<polyline fill="none" stroke="#000" stroke-width="0.85" stroke-linejoin="round" points="718.46,210.28 718.53,210.18 718.6,211.28 718.67,212.81 718.74,213.82 718.81,214.37 718.88,213.39 718.95,215.58 719.02,217.22 719.09,220.18 719.16,217.92 719.23,218.06 719.3,219.86 719.37,218.13 719.44,218.51 719.51,220.33 719.58,219.83 719.65,220.29 719.72,220.58 719.79,220.04 719.86,218.97 719.93,219.44 720,220.61 720.07,219.32 720.14,218.77 720.21,220.41 720.28,216.35 720.35,221.31 720.42,220.28 720.49,219.3 720.56,219.42 720.63,218.68 720.7,221.43 720.77,219.27 720.84,221.3 720.91,220.62 720.98,220.33 721.05,221.33 721.12,219.51 721.19,224.59 721.26,221.28 721.33,220.16 721.4,218.3 721.47,219.98 721.54,219.54 721.61,219.64 721.68,220.08 721.75,223.4 721.82,221.74 721.89,222.29 721.96,221.01 722.03,219.08 722.1,220.37 722.17,219.44 722.24,221.07 722.31,221.25 722.38,223.57 722.45,219.17 722.52,222.37 722.59,220.53 722.66,221.49 722.73,219.58 722.8,223.77 722.87,221.36 722.94,222.11 723.01,223.79 723.08,221.12 723.15,220.79 723.22,221.64 723.29,220.3 723.36,219.29 723.43,222.14 723.5,221.52 723.57,219.28 723.64,222.1 723.71,219.79 723.78,219.07 723.85,220.62 723.92,221.2 723.99,220.09 724.06,220.57 724.13,222.39 724.2,222.52 724.27,221.2 724.34,218.2 724.41,219.66 724.48,217.22 724.55,218.4 724.62,220.63 724.69,221.85 724.76,222.86 724.83,221.57 724.9,223.14 724.97,223.22 725.04,219.65 725.11,220.33 725.18,221.31 725.25,219.43 725.32,221.11 725.39,220.03 725.46,219.59 725.53,220.99 725.6,223.03 725.67,218.77 725.74,220.11 725.81,220.61 725.88,221.95 725.95,220.83 726.02,218.86 726.09,222.03 726.16,221.73 726.23,222 726.3,222.29 726.37,221.63 726.44,217.64 726.51,219.04 726.58,220.54 726.65,221.2 726.72,221.57 726.79,221.81 726.86,219.61 726.93,221.25 727,220.49 727.07,221.56 727.14,223.45 727.21,219.72 727.28,221.87 727.35,219.38 727.42,220.58 727.49,219.77 727.56,220.82 727.63,221.47 727.7,217.77 727.77,223.36 727.84,222.73 727.91,223.56 727.98,221.68 728.05,222.11 728.12,220.14 728.19,222.42 728.26,219.75 728.33,223.04 728.4,220.54 728.47,222.15 728.54,220.91 728.61,222.43 728.68,221.5 728.75,218.7 728.82,217.7 728.89,219.88 728.96,220.27 729.03,218.6 729.1,221.79 729.17,221.98 729.24,221.54 729.31,221.47 729.38,221 729.45,218.35 729.52,221.27 729.59,215.21 729.66,220.72 729.73,221.71 729.8,215.08 729.87,223.34 729.94,218.99 730.01,222.03 730.08,219.95 730.15,220.55 730.22,219.36 730.29,220.42 730.36,220.31 730.43,219.51 730.5,221.99 730.57,221.33 730.64,220.87 730.71,218.75 730.78,222.16 730.85,222.35 730.92,222 730.99,222.1 731.06,221.16 731.13,222.29 731.2,219.02 731.27,221.43 731.34,219.93 731.41,218.87 731.48,220.89 731.55,220.85 731.62,221.19 731.69,217.81 731.76,220.76 731.83,222.33 731.9,221.35 731.97,220.91 732.04,220.97 732.11,219.78 732.18,221.31 732.25,217.49 732.32,218.78 732.39,218.2 732.46,216.92 732.53,221.22 732.6,219.74 732.67,220.29 732.74,220.3 732.81,219.4 732.88,221.25 732.95,219.23 733.02,220.73 733.09,219.87 733.16,218.81 733.23,220.87 733.3,222.72 733.37,221.91 733.44,222.59 733.51,219.31 733.58,222.72 733.65,217.58 733.72,220.72 733.79,220.97 733.86,221.28 733.93,221.11 734,220.01 734.07,219.6 734.14,220.85 734.21,219.86 734.28,217.81 734.35,223.58 734.42,219.76 734.49,222.15 734.56,220.38 734.63,219.57 734.7,220.18 734.77,219.92 734.84,219.46 734.91,219.84 734.98,219.19 735.05,220.77 735.12,220.53 735.19,220.66 735.26,218.11 735.33,220.82 735.4,222.79 735.47,218.64 735.54,220.53 735.61,222.29 735.68,220.27 735.75,224.04 735.82,219.86 735.89,216.97 735.96,223.62 736.03,221.73 736.1,218.3 736.17,220.33 736.24,220.46 736.31,218.85 736.38,217.06 736.45,220.9 736.52,221 736.59,218.41 736.66,217.83 736.73,223.95 736.8,220.99 736.87,220 736.94,221.93 737.01,220.67 737.08,218.75 737.15,220.76 737.22,224.21 737.29,219.63 737.36,222.04 737.43,220.58 737.5,222.31 737.57,221.46 737.64,222.22 737.71,222.67 737.78,220.68 737.85,223.26 737.92,221.59 737.99,219.25 738.06,225.41 738.13,221.57 738.2,220.02 738.27,222.22 738.34,221.99 738.41,223.74 738.48,223.57 738.55,222.25 738.62,222.12 738.69,222.66 738.76,222.71 738.83,222.66 738.9,222.62 738.97,220.44 739.04,223.07 739.11,223.25 739.18,224.71 739.25,220.58 739.32,221.55 739.39,217.7 739.46,218.18 739.53,221.73 739.6,222.33 739.67,221.5 739.74,222 739.81,222.72 739.88,220.51 739.95,222.7 740.02,223.08 740.09,220.73 740.16,223.12 740.23,220.96 740.3,221.93 740.37,221.81 740.44,221.66 740.51,218.43 740.58,224.27 740.65,219.78 740.72,222.72 740.79,221.55 740.86,221.85 740.93,220.49 741,221.6 741.07,222.03 741.14,222.84 741.21,223.59 741.28,222.2 741.35,221.16 741.42,222.63 741.49,222.52 741.56,223.19 741.63,220.87 741.7,222.79 741.77,218.99 741.84,223.3 741.91,221.9 741.98,223.76 742.05,222.41 742.12,223.55 742.19,224.11 742.26,220.28 742.33,220.05 742.4,223.35 742.47,222.77 742.54,220.76 742.61,221.17 742.68,221.13 742.75,222.97 742.82,220.37 742.89,220.01 742.96,221.43 743.03,220.82 743.1,222.91 743.17,222.74 743.24,220.53 743.31,223.08 743.38,223.25 743.45,221.8 743.52,220.98 743.59,220.09 743.66,222.64 743.73,224.17 743.8,223.83 743.87,222.82 743.94,226.4 744.01,220.46 744.08,223.44 744.15,221.25 744.22,222.92 744.29,221.31 744.36,221.8 744.43,223.34 744.5,220.31 744.57,221.43 744.64,220.68 744.71,222.67 744.78,222.99 744.85,223.26 744.92,219.94 744.99,220.09 745.06,222.67 745.13,222.54 745.2,220.84 745.27,222.53 745.34,222.68 745.41,221.58 745.48,226.65 745.55,221 745.62,223.88 745.69,222.33 745.76,222.41 745.83,220.87 745.9,221.64 745.97,221.84 746.04,221.54 746.11,223.01 746.18,224.4 746.25,222.41 746.32,223.25 746.39,221.84 746.46,221.06 746.53,221.11 746.6,220.82 746.67,221.44 746.74,221.58 746.81,222.67 746.88,221.55 746.95,223.73 747.02,223.33 747.09,221.91 747.16,220.28 747.23,222.11 747.3,222.38 747.37,223.08 747.44,223.16 747.51,222.8 747.58,222.72 747.65,223.15 747.72,224.69 747.79,222.17 747.86,221.45 747.93,224.72 748,222.99 748.07,220.72 748.14,221.99 748.21,221.2 748.28,223.99 748.35,220.63 748.42,221.04 748.49,220.35 748.56,219.48 748.63,223.07 748.7,218.42 748.77,222.68 748.84,221.18 748.91,223.49 748.98,221.52 749.05,223.77 749.12,223.95 749.19,224.18 749.26,222.74 749.33,222.69 749.4,222.86 749.47,218.62 749.54,224.74 749.61,221.57 749.68,221.41 749.75,222.17 749.82,222.59 749.89,221.73 749.96,220.44 750.03,220.89 750.1,223.49 750.17,221.83 750.24,221.05 750.31,220.35 750.38,220.04 750.45,220.09 750.52,222.03 750.59,221.46 750.66,219.3 750.73,220.06 750.8,218.54 750.87,221.35 750.94,222.42 751.01,222.01 751.08,223.85 751.15,220.73 751.22,224.04 751.29,219.66 751.36,221.71 751.43,220.1 751.5,221.48 751.57,222.24 751.64,220.17 751.71,218.32 751.78,219.85 751.85,220.39 751.92,219.92 751.99,223.69 752.06,220.56 752.13,220.01 752.2,222.24 752.27,221.61 752.34,220.57 752.41,220.34 752.48,221.83 752.55,221.58 752.62,222.17 752.69,221.83 752.76,219.35 752.83,222.27 752.9,218.48 752.97,218.62 753.04,218.4 753.11,220.28 753.18,223.9 753.25,220.85 753.32,221 753.39,220.48 753.46,222.87 753.53,218.06 753.6,221.43 753.67,221.89 753.74,223.21 753.81,220.96 753.88,220.52 753.95,220.36 754.02,218.37 754.09,220.46 754.16,220.97 754.23,221.58 754.3,222.04 754.37,218.77 754.44,219.28 754.51,221.42 754.58,218.87 754.65,223.68 754.72,218.61 754.79,220.58 754.86,219.59 754.93,221.88 755,219.74 755.07,221.19 755.14,220.44 755.21,220.15 755.28,221.2 755.35,222.61 755.42,221.59 755.49,220.51 755.56,218.86 755.63,219.68 755.7,215.78 755.77,222.4 755.84,219.24 755.91,221.69 755.98,222.68 756.05,223.95 756.12,222.48 756.19,219.64 756.26,221.06 756.33,220.46 756.4,218.93 756.47,217.82 756.54,222.54 756.61,220.36 756.68,221.76 756.75,221.55 756.82,220.41 756.89,220.6 756.96,222.59 757.03,222.82 757.1,222.74 757.17,221.19 757.24,221.74 757.31,220.61 757.38,218.39 757.45,222.51 757.52,219.12 757.59,220.22 757.66,219.11 757.73,221.35 757.8,223.44 757.87,222.94 757.94,220.34 758.01,222.82 758.08,218.49 758.15,220.58 758.22,219.43 758.29,220.25 758.36,221.63 758.43,218.44 758.5,222.94 758.57,222.53 758.64,222 758.71,220.97 758.78,222.21 758.85,222.62 758.92,220.52 758.99,218.35 759.06,220.16 759.13,220.84 759.2,218 759.27,221.67 759.34,220.3 759.41,220.31 759.48,222.72 759.55,219.89 759.62,219.45 759.69,221.51 759.76,219.57 759.83,222.26 759.9,219.85 759.97,220.36 760.04,222.05 760.11,220.19 760.18,219.52 760.25,222.31 760.32,218.39 760.39,219.47 760.46,221.92 760.53,220.7 760.6,222.16"/>
<rect x="61.1" y="10.6" width="309" height="229.6" fill="none" stroke="#000" stroke-width="1.5"/>
<rect x="452.8" y="10" width="308.3" height="229" fill="none" stroke="#000" stroke-width="1.5"/>
<path d="M61.1 240.2h5 M61.1 223.8h3 M61.1 207.4h5 M61.1 191h3 M61.1 174.6h5 M61.1 158.2h3 M61.1 141.8h5 M61.1 125.4h3 M61.1 109h5 M61.1 92.6h3 M61.1 76.2h5 M61.1 59.8h3 M61.1 43.4h5 M61.1 27h3 M61.1 10.6h5 M61.1 240.2v-3 M99.72 240.2v-5 M138.35 240.2v-3 M176.97 240.2v-5 M215.6 240.2v-3 M254.22 240.2v-5 M292.85 240.2v-3 M331.48 240.2v-5 M370.1 240.2v-3 M452.8 239h5 M452.8 214.89h3 M452.8 190.78h5 M452.8 166.66h3 M452.8 142.55h5 M452.8 118.44h3 M452.8 94.33h5 M452.8 70.22h3 M452.8 46.1h5 M452.8 21.99h3 M452.8 239v-5 M483.63 239v-3 M514.46 239v-5 M545.29 239v-3 M576.12 239v-5 M606.95 239v-3 M637.78 239v-5 M668.61 239v-3 M699.44 239v-5 M730.27 239v-3 M761.1 239v-5" stroke="#000" stroke-width="1.3" fill="none"/>
<text transform="translate(55.4,244.3) scale(0.96,1)" text-anchor="end" class="ta">0</text>
<text transform="translate(55.4,211.5) scale(0.96,1)" text-anchor="end" class="ta">500</text>
<text transform="translate(55.4,178.7) scale(0.96,1)" text-anchor="end" class="ta">1000</text>
<text transform="translate(55.4,145.9) scale(0.96,1)" text-anchor="end" class="ta">1500</text>
<text transform="translate(55.4,113.1) scale(0.96,1)" text-anchor="end" class="ta">2000</text>
<text transform="translate(55.4,80.3) scale(0.96,1)" text-anchor="end" class="ta">2500</text>
<text transform="translate(55.4,47.5) scale(0.96,1)" text-anchor="end" class="ta">3000</text>
<text transform="translate(55.4,14.7) scale(0.96,1)" text-anchor="end" class="ta">3500</text>
<text transform="translate(99.72,256.2) scale(0.96,1)" text-anchor="middle" class="ta">20</text>
<text transform="translate(176.97,256.2) scale(0.96,1)" text-anchor="middle" class="ta">40</text>
<text transform="translate(254.22,256.2) scale(0.96,1)" text-anchor="middle" class="ta">60</text>
<text transform="translate(331.48,256.2) scale(0.96,1)" text-anchor="middle" class="ta">80</text>
<text transform="translate(447.3,243.4) scale(0.91,1)" text-anchor="end" class="tb">0</text>
<text transform="translate(447.3,195.18) scale(0.91,1)" text-anchor="end" class="tb">400</text>
<text transform="translate(447.3,146.95) scale(0.91,1)" text-anchor="end" class="tb">800</text>
<text transform="translate(447.3,98.73) scale(0.91,1)" text-anchor="end" class="tb">1200</text>
<text transform="translate(447.3,50.5) scale(0.91,1)" text-anchor="end" class="tb">1600</text>
<text transform="translate(453.2,255) scale(0.91,1)" text-anchor="middle" class="tb">10</text>
<text transform="translate(514.86,255) scale(0.91,1)" text-anchor="middle" class="tb">20</text>
<text transform="translate(576.52,255) scale(0.91,1)" text-anchor="middle" class="tb">30</text>
<text transform="translate(638.18,255) scale(0.91,1)" text-anchor="middle" class="tb">40</text>
<text transform="translate(699.84,255) scale(0.91,1)" text-anchor="middle" class="tb">50</text>
<text transform="translate(761.5,255) scale(0.91,1)" text-anchor="middle" class="tb">60</text>
<text transform="translate(184,273.5) scale(0.952,1)" class="tt">2θ <tspan class="pp">(</tspan>degree<tspan class="pp">)</tspan></text>
<text transform="translate(575.5,275.6) scale(0.952,1)" class="tt">2θ <tspan class="pp">(</tspan>degree<tspan class="pp">)</tspan></text>
<text transform="translate(15.8,171.6) rotate(-90) scale(0.9,1)" class="yt">Intensity (a.u.)</text>
<text transform="translate(407.8,171.4) rotate(-90) scale(0.9,1)" class="yt">Intensity (a.u.)</text>
<text transform="translate(4.6,18.9) scale(1.0,1)" class="pl">A</text>
<text transform="translate(397.9,18.8) scale(1.0,1)" class="pl">B</text>
<path d="M165.9 170.1L168.8 173.5L165.9 176.9L163 173.5Z" fill="#f00"/>
<path d="M188.9 151.9L191.8 155.3L188.9 158.7L186 155.3Z" fill="#f00"/>
<path d="M264.9 174.9L267.8 178.3L264.9 181.7L262 178.3Z" fill="#f00"/>
<path d="M313.3 196.34L315.91 199.4L313.3 202.46L310.69 199.4Z" fill="#f00"/>
<path d="M328.3 198.91L330.76 201.8L328.3 204.69L325.84 201.8Z" fill="#f00"/>
<path d="M292 38.1L294.9 41.5L292 44.9L289.1 41.5Z" fill="#f00"/>
<g fill="#f00"><circle cx="481.7" cy="18.85" r="1.75"/><circle cx="479.5" cy="22.15" r="1.8"/><circle cx="483.9" cy="22.15" r="1.8"/><circle cx="481.7" cy="21.3" r="1.3"/><path d="M481.35 22L482.05 22L482.55 24.7L480.85 24.7Z"/></g>
<g fill="#f00"><circle cx="517.8" cy="141.15" r="1.75"/><circle cx="515.6" cy="144.45" r="1.8"/><circle cx="520" cy="144.45" r="1.8"/><circle cx="517.8" cy="143.6" r="1.3"/><path d="M517.45 144.3L518.15 144.3L518.65 147L516.95 147Z"/></g>
<g fill="#f00"><circle cx="545.8" cy="106.15" r="1.75"/><circle cx="543.6" cy="109.45" r="1.8"/><circle cx="548" cy="109.45" r="1.8"/><circle cx="545.8" cy="108.6" r="1.3"/><path d="M545.45 109.3L546.15 109.3L546.65 112L544.95 112Z"/></g>
<g fill="#f00"><circle cx="569.9" cy="109.35" r="1.75"/><circle cx="567.7" cy="112.65" r="1.8"/><circle cx="572.1" cy="112.65" r="1.8"/><circle cx="569.9" cy="111.8" r="1.3"/><path d="M569.55 112.5L570.25 112.5L570.75 115.2L569.05 115.2Z"/></g>
<g fill="#f00"><circle cx="591.1" cy="67.15" r="1.75"/><circle cx="588.9" cy="70.45" r="1.8"/><circle cx="593.3" cy="70.45" r="1.8"/><circle cx="591.1" cy="69.6" r="1.3"/><path d="M590.75 70.3L591.45 70.3L591.95 73L590.25 73Z"/></g>
<g fill="#f00"><circle cx="611" cy="152.25" r="1.75"/><circle cx="608.8" cy="155.55" r="1.8"/><circle cx="613.2" cy="155.55" r="1.8"/><circle cx="611" cy="154.7" r="1.3"/><path d="M610.65 155.4L611.35 155.4L611.85 158.1L610.15 158.1Z"/></g>
<g fill="#f00"><circle cx="644.8" cy="143.45" r="1.75"/><circle cx="642.6" cy="146.75" r="1.8"/><circle cx="647" cy="146.75" r="1.8"/><circle cx="644.8" cy="145.9" r="1.3"/><path d="M644.45 146.6L645.15 146.6L645.65 149.3L643.95 149.3Z"/></g>
<g fill="#f00"><circle cx="660.5" cy="158.65" r="1.75"/><circle cx="658.3" cy="161.95" r="1.8"/><circle cx="662.7" cy="161.95" r="1.8"/><circle cx="660.5" cy="161.1" r="1.3"/><path d="M660.15 161.8L660.85 161.8L661.35 164.5L659.65 164.5Z"/></g>
<g fill="#f00"><circle cx="704.6" cy="183.35" r="1.75"/><circle cx="702.4" cy="186.65" r="1.8"/><circle cx="706.8" cy="186.65" r="1.8"/><circle cx="704.6" cy="185.8" r="1.3"/><path d="M704.25 186.5L704.95 186.5L705.45 189.2L703.75 189.2Z"/></g>
<g fill="#f00"><circle cx="718.4" cy="201.65" r="1.75"/><circle cx="716.2" cy="204.95" r="1.8"/><circle cx="720.6" cy="204.95" r="1.8"/><circle cx="718.4" cy="204.1" r="1.3"/><path d="M718.05 204.8L718.75 204.8L719.25 207.5L717.55 207.5Z"/></g>
<g fill="#f00"><circle cx="607.7" cy="18.55" r="1.75"/><circle cx="605.5" cy="21.85" r="1.8"/><circle cx="609.9" cy="21.85" r="1.8"/><circle cx="607.7" cy="21" r="1.3"/><path d="M607.35 21.7L608.05 21.7L608.55 24.4L606.85 24.4Z"/></g>
<rect x="296.75" y="41.6" width="3.1" height="1.15" fill="#111"/>
<rect x="301.6" y="41.6" width="3.1" height="1.15" fill="#111"/>
<rect x="306.45" y="41.6" width="3.1" height="1.15" fill="#111"/>
<text x="310.0" y="45.8" class="lg" textLength="23.8" lengthAdjust="spacingAndGlyphs">NiO</text>
<rect x="612.5" y="20.45" width="3.2" height="1.15" fill="#111"/>
<rect x="617.05" y="20.45" width="3.2" height="1.15" fill="#111"/>
<rect x="621.6" y="20.45" width="3.2" height="1.15" fill="#111"/>
<text x="626.0" y="24.1" class="lg2" textLength="126.9" lengthAdjust="spacingAndGlyphs">triple cation perovskite</text></svg></body></html>
